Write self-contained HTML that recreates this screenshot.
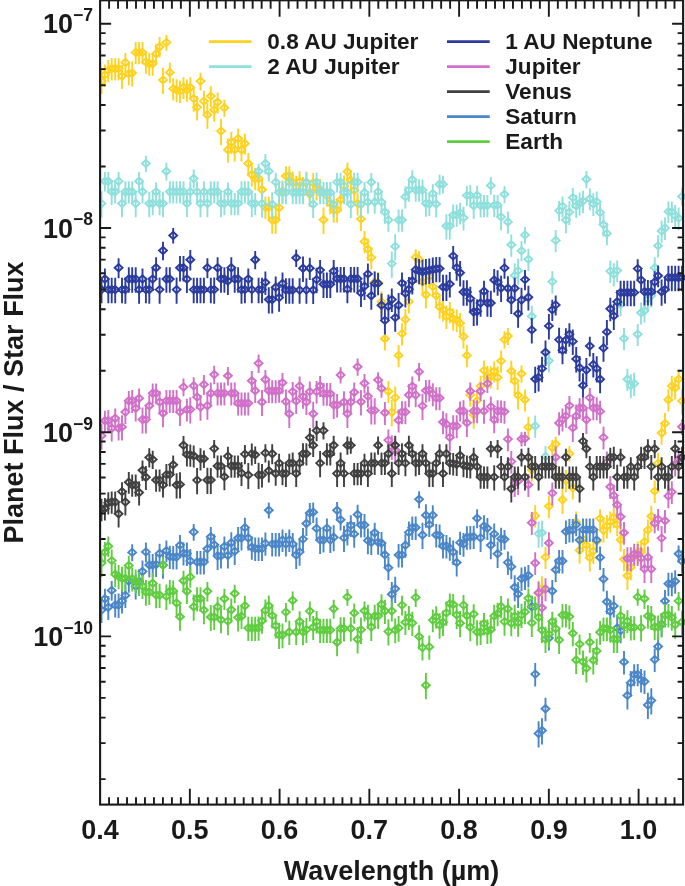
<!DOCTYPE html>
<html lang="en"><head><meta charset="utf-8"><title>Planet Flux / Star Flux vs Wavelength</title>
<style>html,body{margin:0;padding:0;background:#fff}svg{display:block}</style></head>
<body>
<svg width="685" height="886" viewBox="0 0 685 886">
<rect width="685" height="886" fill="#fff"/>
<defs><clipPath id="plotclip"><rect x="100.1" y="0.3" width="586.0" height="804.3000000000001"/></clipPath></defs>
<g clip-path="url(#plotclip)"><g stroke="#ffd21f" fill="none"><path stroke-width="1.9" d="M101.5 70.0V93.9M104.9 64.4V86.7M108.3 60.0V82.2M111.7 58.2V80.5M115.2 58.2V80.5M118.6 58.2V80.5M122.0 64.8V89.1M125.4 53.1V72.8M128.8 63.1V85.5M132.2 61.4V86.6M135.7 42.0V64.3M139.1 42.0V64.3M142.5 42.0V64.3M145.9 51.5V73.7M149.3 53.0V75.7M152.7 53.0V75.7M156.1 44.3V64.2M159.6 37.0V57.6M163.0 67.7V94.0M166.4 34.9V50.7M169.8 62.8V83.2M173.2 78.2V100.5M176.6 79.3V101.9M180.0 80.5V103.1M183.5 77.2V98.9M186.9 79.4V101.7M190.3 77.2V98.9M193.7 87.1V111.8M197.1 95.9V120.5M200.5 72.7V90.4M203.9 90.7V112.9M207.4 102.8V128.8M210.8 86.3V107.1M214.2 99.4V121.7M217.6 92.5V113.4M221.0 118.9V145.2M224.4 99.7V116.8M227.9 138.5V162.7M231.3 131.8V154.1M234.7 139.3V161.6M238.1 128.6V149.7M241.5 139.3V161.6M244.9 133.8V154.5M248.3 153.1V175.3M251.8 164.3V186.6M255.2 168.0V190.3M258.6 168.0V190.3M262.0 179.3V201.6M265.4 196.7V219.0M268.8 196.7V219.0M272.2 208.1V233.7M275.7 208.1V233.7M279.1 197.2V219.5M282.5 180.6V202.9M285.9 166.2V187.0M289.3 166.2V187.0M292.7 171.5V193.9M296.2 176.1V199.7M299.6 171.3V193.4M303.0 177.1V199.6M306.4 171.8V193.9M309.8 183.1V207.1M313.2 172.9V193.7M316.6 178.4V200.5M320.1 179.1V201.4M323.5 207.6V233.9M326.9 186.1V206.6M330.3 193.5V214.2M333.7 198.8V222.8M337.1 198.8V222.8M340.6 189.4V211.6M344.0 175.5V197.8M347.4 162.6V181.6M350.8 170.4V191.2M354.2 179.7V202.0M357.6 193.2V215.5M361.0 208.4V230.7M364.5 231.0V253.2M367.9 238.6V260.9M371.3 247.1V269.4M374.7 271.6V293.8M378.1 272.1V294.4M381.5 291.3V313.6M384.9 328.3V350.6M388.4 380.9V403.2M391.8 400.1V426.3M395.2 386.4V410.3M398.6 345.0V367.3M402.0 323.2V345.5M405.4 308.9V331.2M408.9 291.2V313.4M412.3 270.7V293.0M415.7 249.2V266.1M419.1 251.1V268.5M422.5 270.9V294.7M425.9 282.7V308.5M429.3 266.9V286.7M432.8 277.0V297.3M436.2 285.1V307.4M439.6 296.5V318.8M443.0 299.2V321.5M446.4 305.6V329.0M449.8 302.0V323.2M453.2 308.4V330.7M456.7 309.6V331.9M460.1 312.9V335.1M463.5 326.1V348.4M466.9 344.9V367.2M470.3 384.4V406.7M473.7 402.6V428.8M477.1 389.3V413.0M480.6 375.7V398.0M484.0 360.6V381.3M487.4 366.0V388.2M490.8 366.3V388.6M494.2 361.4V382.5M497.6 366.2V390.1M501.1 350.4V372.7M504.5 331.3V348.8M507.9 328.1V344.9M511.3 360.6V382.9M514.7 369.8V394.0M518.1 383.2V409.4M521.5 365.4V382.8M525.0 389.4V411.6M528.4 416.7V439.0M531.8 459.4V481.7M535.2 505.2V527.5M538.6 580.8V607.1M542.0 576.3V602.6M545.5 546.7V569.0M548.9 495.8V518.1M552.3 440.0V456.0M555.7 436.8V452.1M559.1 466.3V488.6M562.5 487.7V513.9M565.9 469.9V492.2M569.4 446.3V461.4M572.8 477.3V499.5M576.2 511.5V533.8M579.6 538.5V563.8M583.0 529.5V550.3M586.4 535.1V556.1M589.8 545.7V571.5M593.3 540.0V563.9M596.7 530.8V553.1M600.1 509.3V528.7M603.5 519.4V542.8M606.9 515.0V538.4M610.3 511.5V533.1M613.8 507.6V528.2M617.2 514.0V536.3M620.6 529.3V551.5M624.0 548.9V571.2M627.4 563.6V589.9M630.8 555.9V580.3M634.2 546.3V568.5M637.7 541.6V563.8M641.1 541.6V563.8M644.5 531.1V553.4M647.9 519.5V541.7M651.3 505.8V528.0M654.7 480.6V502.9M658.1 452.7V475.0M661.6 422.5V444.8M665.0 413.0V435.2M668.4 389.2V411.5M671.8 375.7V397.6M675.2 377.3V399.6M678.6 369.6V389.8M682.0 388.9V414.8"/><path stroke-width="1.95" d="M97.6 81.1l3.9 -3.6l3.9 3.6l-3.9 3.6zM101.0 74.9l3.9 -3.6l3.9 3.6l-3.9 3.6zM104.4 70.4l3.9 -3.6l3.9 3.6l-3.9 3.6zM107.8 68.6l3.9 -3.6l3.9 3.6l-3.9 3.6zM111.3 68.6l3.9 -3.6l3.9 3.6l-3.9 3.6zM114.7 68.6l3.9 -3.6l3.9 3.6l-3.9 3.6zM118.1 76.1l3.9 -3.6l3.9 3.6l-3.9 3.6zM121.5 62.4l3.9 -3.6l3.9 3.6l-3.9 3.6zM124.9 73.6l3.9 -3.6l3.9 3.6l-3.9 3.6zM128.3 73.1l3.9 -3.6l3.9 3.6l-3.9 3.6zM131.8 52.4l3.9 -3.6l3.9 3.6l-3.9 3.6zM135.2 52.4l3.9 -3.6l3.9 3.6l-3.9 3.6zM138.6 52.4l3.9 -3.6l3.9 3.6l-3.9 3.6zM142.0 61.9l3.9 -3.6l3.9 3.6l-3.9 3.6zM145.4 63.7l3.9 -3.6l3.9 3.6l-3.9 3.6zM148.8 63.7l3.9 -3.6l3.9 3.6l-3.9 3.6zM152.2 53.7l3.9 -3.6l3.9 3.6l-3.9 3.6zM155.7 46.7l3.9 -3.6l3.9 3.6l-3.9 3.6zM159.1 79.9l3.9 -3.6l3.9 3.6l-3.9 3.6zM162.5 42.4l3.9 -3.6l3.9 3.6l-3.9 3.6zM165.9 72.4l3.9 -3.6l3.9 3.6l-3.9 3.6zM169.3 88.6l3.9 -3.6l3.9 3.6l-3.9 3.6zM172.7 89.9l3.9 -3.6l3.9 3.6l-3.9 3.6zM176.1 91.1l3.9 -3.6l3.9 3.6l-3.9 3.6zM179.6 87.4l3.9 -3.6l3.9 3.6l-3.9 3.6zM183.0 89.9l3.9 -3.6l3.9 3.6l-3.9 3.6zM186.4 87.4l3.9 -3.6l3.9 3.6l-3.9 3.6zM189.8 98.6l3.9 -3.6l3.9 3.6l-3.9 3.6zM193.2 107.3l3.9 -3.6l3.9 3.6l-3.9 3.6zM196.6 81.1l3.9 -3.6l3.9 3.6l-3.9 3.6zM200.0 101.1l3.9 -3.6l3.9 3.6l-3.9 3.6zM203.5 114.8l3.9 -3.6l3.9 3.6l-3.9 3.6zM206.9 96.1l3.9 -3.6l3.9 3.6l-3.9 3.6zM210.3 109.8l3.9 -3.6l3.9 3.6l-3.9 3.6zM213.7 102.3l3.9 -3.6l3.9 3.6l-3.9 3.6zM217.1 131.1l3.9 -3.6l3.9 3.6l-3.9 3.6zM220.5 107.8l3.9 -3.6l3.9 3.6l-3.9 3.6zM224.0 149.8l3.9 -3.6l3.9 3.6l-3.9 3.6zM227.4 142.3l3.9 -3.6l3.9 3.6l-3.9 3.6zM230.8 149.8l3.9 -3.6l3.9 3.6l-3.9 3.6zM234.2 138.5l3.9 -3.6l3.9 3.6l-3.9 3.6zM237.6 149.8l3.9 -3.6l3.9 3.6l-3.9 3.6zM241.0 143.5l3.9 -3.6l3.9 3.6l-3.9 3.6zM244.4 163.5l3.9 -3.6l3.9 3.6l-3.9 3.6zM247.9 174.7l3.9 -3.6l3.9 3.6l-3.9 3.6zM251.3 178.5l3.9 -3.6l3.9 3.6l-3.9 3.6zM254.7 178.5l3.9 -3.6l3.9 3.6l-3.9 3.6zM258.1 189.7l3.9 -3.6l3.9 3.6l-3.9 3.6zM261.5 207.2l3.9 -3.6l3.9 3.6l-3.9 3.6zM264.9 207.2l3.9 -3.6l3.9 3.6l-3.9 3.6zM268.4 220.0l3.9 -3.6l3.9 3.6l-3.9 3.6zM271.8 220.0l3.9 -3.6l3.9 3.6l-3.9 3.6zM275.2 207.7l3.9 -3.6l3.9 3.6l-3.9 3.6zM278.6 191.0l3.9 -3.6l3.9 3.6l-3.9 3.6zM282.0 176.0l3.9 -3.6l3.9 3.6l-3.9 3.6zM285.4 176.0l3.9 -3.6l3.9 3.6l-3.9 3.6zM288.8 182.0l3.9 -3.6l3.9 3.6l-3.9 3.6zM292.3 187.1l3.9 -3.6l3.9 3.6l-3.9 3.6zM295.7 181.6l3.9 -3.6l3.9 3.6l-3.9 3.6zM299.1 187.6l3.9 -3.6l3.9 3.6l-3.9 3.6zM302.5 182.2l3.9 -3.6l3.9 3.6l-3.9 3.6zM305.9 194.3l3.9 -3.6l3.9 3.6l-3.9 3.6zM309.3 182.7l3.9 -3.6l3.9 3.6l-3.9 3.6zM312.7 188.7l3.9 -3.6l3.9 3.6l-3.9 3.6zM316.2 189.5l3.9 -3.6l3.9 3.6l-3.9 3.6zM319.6 219.8l3.9 -3.6l3.9 3.6l-3.9 3.6zM323.0 195.8l3.9 -3.6l3.9 3.6l-3.9 3.6zM326.4 203.3l3.9 -3.6l3.9 3.6l-3.9 3.6zM329.8 210.0l3.9 -3.6l3.9 3.6l-3.9 3.6zM333.2 210.0l3.9 -3.6l3.9 3.6l-3.9 3.6zM336.7 199.8l3.9 -3.6l3.9 3.6l-3.9 3.6zM340.1 185.9l3.9 -3.6l3.9 3.6l-3.9 3.6zM343.5 171.6l3.9 -3.6l3.9 3.6l-3.9 3.6zM346.9 180.2l3.9 -3.6l3.9 3.6l-3.9 3.6zM350.3 190.2l3.9 -3.6l3.9 3.6l-3.9 3.6zM353.7 203.6l3.9 -3.6l3.9 3.6l-3.9 3.6zM357.1 218.9l3.9 -3.6l3.9 3.6l-3.9 3.6zM360.6 241.4l3.9 -3.6l3.9 3.6l-3.9 3.6zM364.0 249.1l3.9 -3.6l3.9 3.6l-3.9 3.6zM367.4 257.6l3.9 -3.6l3.9 3.6l-3.9 3.6zM370.8 282.0l3.9 -3.6l3.9 3.6l-3.9 3.6zM374.2 282.6l3.9 -3.6l3.9 3.6l-3.9 3.6zM377.6 301.8l3.9 -3.6l3.9 3.6l-3.9 3.6zM381.0 338.7l3.9 -3.6l3.9 3.6l-3.9 3.6zM384.5 391.4l3.9 -3.6l3.9 3.6l-3.9 3.6zM387.9 412.2l3.9 -3.6l3.9 3.6l-3.9 3.6zM391.3 397.6l3.9 -3.6l3.9 3.6l-3.9 3.6zM394.7 355.4l3.9 -3.6l3.9 3.6l-3.9 3.6zM398.1 333.6l3.9 -3.6l3.9 3.6l-3.9 3.6zM401.5 319.4l3.9 -3.6l3.9 3.6l-3.9 3.6zM405.0 301.6l3.9 -3.6l3.9 3.6l-3.9 3.6zM408.4 281.1l3.9 -3.6l3.9 3.6l-3.9 3.6zM411.8 257.2l3.9 -3.6l3.9 3.6l-3.9 3.6zM415.2 259.4l3.9 -3.6l3.9 3.6l-3.9 3.6zM418.6 282.0l3.9 -3.6l3.9 3.6l-3.9 3.6zM422.0 294.7l3.9 -3.6l3.9 3.6l-3.9 3.6zM425.4 276.3l3.9 -3.6l3.9 3.6l-3.9 3.6zM428.9 286.6l3.9 -3.6l3.9 3.6l-3.9 3.6zM432.3 295.6l3.9 -3.6l3.9 3.6l-3.9 3.6zM435.7 306.9l3.9 -3.6l3.9 3.6l-3.9 3.6zM439.1 309.6l3.9 -3.6l3.9 3.6l-3.9 3.6zM442.5 316.5l3.9 -3.6l3.9 3.6l-3.9 3.6zM445.9 312.0l3.9 -3.6l3.9 3.6l-3.9 3.6zM449.3 318.9l3.9 -3.6l3.9 3.6l-3.9 3.6zM452.8 320.0l3.9 -3.6l3.9 3.6l-3.9 3.6zM456.2 323.3l3.9 -3.6l3.9 3.6l-3.9 3.6zM459.6 336.5l3.9 -3.6l3.9 3.6l-3.9 3.6zM463.0 355.4l3.9 -3.6l3.9 3.6l-3.9 3.6zM466.4 394.9l3.9 -3.6l3.9 3.6l-3.9 3.6zM469.8 414.7l3.9 -3.6l3.9 3.6l-3.9 3.6zM473.2 400.4l3.9 -3.6l3.9 3.6l-3.9 3.6zM476.7 386.1l3.9 -3.6l3.9 3.6l-3.9 3.6zM480.1 370.4l3.9 -3.6l3.9 3.6l-3.9 3.6zM483.5 376.4l3.9 -3.6l3.9 3.6l-3.9 3.6zM486.9 376.7l3.9 -3.6l3.9 3.6l-3.9 3.6zM490.3 371.3l3.9 -3.6l3.9 3.6l-3.9 3.6zM493.7 377.4l3.9 -3.6l3.9 3.6l-3.9 3.6zM497.2 360.9l3.9 -3.6l3.9 3.6l-3.9 3.6zM500.6 339.6l3.9 -3.6l3.9 3.6l-3.9 3.6zM504.0 336.1l3.9 -3.6l3.9 3.6l-3.9 3.6zM507.4 371.0l3.9 -3.6l3.9 3.6l-3.9 3.6zM510.8 381.1l3.9 -3.6l3.9 3.6l-3.9 3.6zM514.2 395.3l3.9 -3.6l3.9 3.6l-3.9 3.6zM517.6 373.7l3.9 -3.6l3.9 3.6l-3.9 3.6zM521.1 399.8l3.9 -3.6l3.9 3.6l-3.9 3.6zM524.5 427.2l3.9 -3.6l3.9 3.6l-3.9 3.6zM527.9 469.9l3.9 -3.6l3.9 3.6l-3.9 3.6zM531.3 515.7l3.9 -3.6l3.9 3.6l-3.9 3.6zM534.7 593.0l3.9 -3.6l3.9 3.6l-3.9 3.6zM538.1 588.5l3.9 -3.6l3.9 3.6l-3.9 3.6zM541.6 557.1l3.9 -3.6l3.9 3.6l-3.9 3.6zM545.0 506.2l3.9 -3.6l3.9 3.6l-3.9 3.6zM548.4 447.7l3.9 -3.6l3.9 3.6l-3.9 3.6zM551.8 444.1l3.9 -3.6l3.9 3.6l-3.9 3.6zM555.2 476.7l3.9 -3.6l3.9 3.6l-3.9 3.6zM558.6 499.8l3.9 -3.6l3.9 3.6l-3.9 3.6zM562.0 480.4l3.9 -3.6l3.9 3.6l-3.9 3.6zM565.5 453.6l3.9 -3.6l3.9 3.6l-3.9 3.6zM568.9 487.7l3.9 -3.6l3.9 3.6l-3.9 3.6zM572.3 522.0l3.9 -3.6l3.9 3.6l-3.9 3.6zM575.7 550.2l3.9 -3.6l3.9 3.6l-3.9 3.6zM579.1 539.3l3.9 -3.6l3.9 3.6l-3.9 3.6zM582.5 545.0l3.9 -3.6l3.9 3.6l-3.9 3.6zM585.9 557.7l3.9 -3.6l3.9 3.6l-3.9 3.6zM589.4 551.1l3.9 -3.6l3.9 3.6l-3.9 3.6zM592.8 541.2l3.9 -3.6l3.9 3.6l-3.9 3.6zM596.2 518.5l3.9 -3.6l3.9 3.6l-3.9 3.6zM599.6 530.3l3.9 -3.6l3.9 3.6l-3.9 3.6zM603.0 526.0l3.9 -3.6l3.9 3.6l-3.9 3.6zM606.4 521.6l3.9 -3.6l3.9 3.6l-3.9 3.6zM609.9 517.3l3.9 -3.6l3.9 3.6l-3.9 3.6zM613.3 524.5l3.9 -3.6l3.9 3.6l-3.9 3.6zM616.7 539.7l3.9 -3.6l3.9 3.6l-3.9 3.6zM620.1 559.3l3.9 -3.6l3.9 3.6l-3.9 3.6zM623.5 575.8l3.9 -3.6l3.9 3.6l-3.9 3.6zM626.9 567.2l3.9 -3.6l3.9 3.6l-3.9 3.6zM630.3 556.7l3.9 -3.6l3.9 3.6l-3.9 3.6zM633.8 552.0l3.9 -3.6l3.9 3.6l-3.9 3.6zM637.2 552.0l3.9 -3.6l3.9 3.6l-3.9 3.6zM640.6 541.6l3.9 -3.6l3.9 3.6l-3.9 3.6zM644.0 529.9l3.9 -3.6l3.9 3.6l-3.9 3.6zM647.4 516.2l3.9 -3.6l3.9 3.6l-3.9 3.6zM650.8 491.1l3.9 -3.6l3.9 3.6l-3.9 3.6zM654.2 463.1l3.9 -3.6l3.9 3.6l-3.9 3.6zM657.7 433.0l3.9 -3.6l3.9 3.6l-3.9 3.6zM661.1 423.4l3.9 -3.6l3.9 3.6l-3.9 3.6zM664.5 399.7l3.9 -3.6l3.9 3.6l-3.9 3.6zM667.9 386.0l3.9 -3.6l3.9 3.6l-3.9 3.6zM671.3 387.8l3.9 -3.6l3.9 3.6l-3.9 3.6zM674.7 379.1l3.9 -3.6l3.9 3.6l-3.9 3.6zM678.1 400.9l3.9 -3.6l3.9 3.6l-3.9 3.6z"/></g><g stroke="#8fe0dc" fill="none"><path stroke-width="1.9" d="M101.5 191.3V217.6M104.9 171.9V191.6M108.3 171.9V191.6M111.7 180.0V205.1M115.2 181.3V203.5M118.6 171.9V191.6M122.0 191.7V217.2M125.4 181.3V203.5M128.8 181.3V203.5M132.2 181.3V203.5M135.7 191.7V217.2M139.1 171.9V191.6M142.5 181.3V203.5M145.9 155.8V172.0M149.3 191.7V217.2M152.7 193.1V215.3M156.1 182.5V202.0M159.6 193.1V215.3M163.0 191.7V217.2M166.4 162.8V180.5M169.8 181.3V203.5M173.2 181.3V203.5M176.6 181.3V203.5M180.0 181.3V203.5M183.5 181.3V203.5M186.9 191.7V217.2M190.3 181.3V203.5M193.7 169.4V188.6M197.1 181.3V203.5M200.5 191.7V217.2M203.9 181.3V203.5M207.4 191.7V217.2M210.8 181.3V203.5M214.2 181.3V203.5M217.6 181.3V203.5M221.0 191.7V217.2M224.4 193.1V215.3M227.9 182.5V202.0M231.3 193.1V215.3M234.7 193.1V215.3M238.1 193.1V215.3M241.5 181.3V203.5M244.9 181.3V203.5M248.3 181.3V203.5M251.8 191.7V217.2M255.2 193.1V215.3M258.6 163.8V179.3M262.0 191.3V217.6M265.4 153.9V174.3M268.8 161.9V181.6M272.2 192.2V218.4M275.7 172.7V192.5M279.1 182.1V204.3M282.5 182.1V204.3M285.9 182.1V204.3M289.3 172.7V192.5M292.7 182.1V204.3M296.2 182.1V204.3M299.6 182.1V204.3M303.0 182.1V204.3M306.4 172.7V192.5M309.8 182.1V204.3M313.2 192.5V218.0M316.6 172.7V192.5M320.1 182.1V204.3M323.5 182.1V204.3M326.9 182.1V204.3M330.3 182.1V204.3M333.7 192.5V218.0M337.1 172.7V192.5M340.6 172.7V192.5M344.0 182.1V204.3M347.4 182.1V204.3M350.8 192.5V218.0M354.2 172.7V192.5M357.6 172.7V192.5M361.0 192.5V218.0M364.5 182.1V204.3M367.9 191.6V213.8M371.3 172.9V192.7M374.7 191.6V213.8M378.1 182.2V202.0M381.5 191.6V213.8M384.9 201.6V223.8M388.4 209.6V231.8M391.8 251.5V277.7M395.2 234.2V260.5M398.6 209.6V231.8M402.0 209.6V231.8M405.4 186.3V208.6M408.9 179.6V201.8M412.3 170.2V190.0M415.7 179.6V201.8M419.1 179.6V201.8M422.5 179.6V201.8M425.9 191.9V216.8M429.3 193.5V215.9M432.8 184.2V204.1M436.2 192.3V217.4M439.6 174.8V194.8M443.0 175.8V193.6M446.4 214.3V239.5M449.8 214.3V239.5M453.2 204.6V226.8M456.7 204.6V226.8M460.1 202.7V224.5M463.5 206.8V230.4M466.9 186.1V205.9M470.3 184.9V207.2M473.7 194.1V219.1M477.1 185.8V205.6M480.6 195.1V217.4M484.0 195.0V217.3M487.4 194.9V217.2M490.8 177.0V194.8M494.2 194.8V217.0M497.6 194.7V216.9M501.1 205.0V230.5M504.5 186.0V203.3M507.9 211.5V233.8M511.3 234.4V256.7M514.7 263.3V289.6M518.1 258.6V284.8M521.5 241.1V261.3M525.0 226.9V243.8M528.4 248.8V271.1M531.8 305.8V328.0M535.2 415.5V437.7M538.6 521.4V547.7M542.0 520.7V546.9M545.5 445.9V468.2M548.9 350.4V372.6M552.3 271.2V293.5M555.7 230.0V252.3M559.1 201.1V221.2M562.5 196.4V217.2M565.9 208.5V233.3M569.4 201.0V224.9M572.8 188.0V208.4M576.2 195.0V217.9M579.6 192.6V215.4M583.0 190.7V213.0M586.4 171.0V188.3M589.8 188.5V210.2M593.3 193.2V216.0M596.7 191.4V213.1M600.1 202.2V224.4M603.5 214.3V236.6M606.9 222.9V245.2M610.3 260.6V283.0M613.8 263.3V286.4M617.2 260.5V281.9M620.6 294.1V316.3M624.0 328.0V350.3M627.4 368.7V391.0M630.8 374.3V398.3M634.2 372.7V396.1M637.7 323.9V346.1M641.1 302.4V324.6M644.5 300.3V322.6M647.9 288.7V310.9M651.3 285.2V307.5M654.7 257.3V279.5M658.1 235.3V257.6M661.6 220.6V242.8M665.0 217.6V239.9M668.4 201.6V222.9M671.8 201.6V222.9M675.2 204.9V228.3M678.6 207.4V230.3M682.0 188.0V205.8"/><path stroke-width="1.95" d="M97.6 203.5l3.9 -3.6l3.9 3.6l-3.9 3.6zM101.0 181.2l3.9 -3.6l3.9 3.6l-3.9 3.6zM104.4 181.2l3.9 -3.6l3.9 3.6l-3.9 3.6zM107.8 191.7l3.9 -3.6l3.9 3.6l-3.9 3.6zM111.3 191.7l3.9 -3.6l3.9 3.6l-3.9 3.6zM114.7 181.2l3.9 -3.6l3.9 3.6l-3.9 3.6zM118.1 203.5l3.9 -3.6l3.9 3.6l-3.9 3.6zM121.5 191.7l3.9 -3.6l3.9 3.6l-3.9 3.6zM124.9 191.7l3.9 -3.6l3.9 3.6l-3.9 3.6zM128.3 191.7l3.9 -3.6l3.9 3.6l-3.9 3.6zM131.8 203.5l3.9 -3.6l3.9 3.6l-3.9 3.6zM135.2 181.2l3.9 -3.6l3.9 3.6l-3.9 3.6zM138.6 191.7l3.9 -3.6l3.9 3.6l-3.9 3.6zM142.0 163.5l3.9 -3.6l3.9 3.6l-3.9 3.6zM145.4 203.5l3.9 -3.6l3.9 3.6l-3.9 3.6zM148.8 203.5l3.9 -3.6l3.9 3.6l-3.9 3.6zM152.2 191.7l3.9 -3.6l3.9 3.6l-3.9 3.6zM155.7 203.5l3.9 -3.6l3.9 3.6l-3.9 3.6zM159.1 203.5l3.9 -3.6l3.9 3.6l-3.9 3.6zM162.5 171.2l3.9 -3.6l3.9 3.6l-3.9 3.6zM165.9 191.7l3.9 -3.6l3.9 3.6l-3.9 3.6zM169.3 191.7l3.9 -3.6l3.9 3.6l-3.9 3.6zM172.7 191.7l3.9 -3.6l3.9 3.6l-3.9 3.6zM176.1 191.7l3.9 -3.6l3.9 3.6l-3.9 3.6zM179.6 191.7l3.9 -3.6l3.9 3.6l-3.9 3.6zM183.0 203.5l3.9 -3.6l3.9 3.6l-3.9 3.6zM186.4 191.7l3.9 -3.6l3.9 3.6l-3.9 3.6zM189.8 178.5l3.9 -3.6l3.9 3.6l-3.9 3.6zM193.2 191.7l3.9 -3.6l3.9 3.6l-3.9 3.6zM196.6 203.5l3.9 -3.6l3.9 3.6l-3.9 3.6zM200.0 191.7l3.9 -3.6l3.9 3.6l-3.9 3.6zM203.5 203.5l3.9 -3.6l3.9 3.6l-3.9 3.6zM206.9 191.7l3.9 -3.6l3.9 3.6l-3.9 3.6zM210.3 191.7l3.9 -3.6l3.9 3.6l-3.9 3.6zM213.7 191.7l3.9 -3.6l3.9 3.6l-3.9 3.6zM217.1 203.5l3.9 -3.6l3.9 3.6l-3.9 3.6zM220.5 203.5l3.9 -3.6l3.9 3.6l-3.9 3.6zM224.0 191.7l3.9 -3.6l3.9 3.6l-3.9 3.6zM227.4 203.5l3.9 -3.6l3.9 3.6l-3.9 3.6zM230.8 203.5l3.9 -3.6l3.9 3.6l-3.9 3.6zM234.2 203.5l3.9 -3.6l3.9 3.6l-3.9 3.6zM237.6 191.7l3.9 -3.6l3.9 3.6l-3.9 3.6zM241.0 191.7l3.9 -3.6l3.9 3.6l-3.9 3.6zM244.4 191.7l3.9 -3.6l3.9 3.6l-3.9 3.6zM247.9 203.5l3.9 -3.6l3.9 3.6l-3.9 3.6zM251.3 203.5l3.9 -3.6l3.9 3.6l-3.9 3.6zM254.7 171.2l3.9 -3.6l3.9 3.6l-3.9 3.6zM258.1 203.5l3.9 -3.6l3.9 3.6l-3.9 3.6zM261.5 163.5l3.9 -3.6l3.9 3.6l-3.9 3.6zM264.9 171.2l3.9 -3.6l3.9 3.6l-3.9 3.6zM268.4 204.3l3.9 -3.6l3.9 3.6l-3.9 3.6zM271.8 182.1l3.9 -3.6l3.9 3.6l-3.9 3.6zM275.2 192.5l3.9 -3.6l3.9 3.6l-3.9 3.6zM278.6 192.5l3.9 -3.6l3.9 3.6l-3.9 3.6zM282.0 192.5l3.9 -3.6l3.9 3.6l-3.9 3.6zM285.4 182.1l3.9 -3.6l3.9 3.6l-3.9 3.6zM288.8 192.5l3.9 -3.6l3.9 3.6l-3.9 3.6zM292.3 192.5l3.9 -3.6l3.9 3.6l-3.9 3.6zM295.7 192.5l3.9 -3.6l3.9 3.6l-3.9 3.6zM299.1 192.5l3.9 -3.6l3.9 3.6l-3.9 3.6zM302.5 182.1l3.9 -3.6l3.9 3.6l-3.9 3.6zM305.9 192.5l3.9 -3.6l3.9 3.6l-3.9 3.6zM309.3 204.3l3.9 -3.6l3.9 3.6l-3.9 3.6zM312.7 182.1l3.9 -3.6l3.9 3.6l-3.9 3.6zM316.2 192.5l3.9 -3.6l3.9 3.6l-3.9 3.6zM319.6 192.5l3.9 -3.6l3.9 3.6l-3.9 3.6zM323.0 192.5l3.9 -3.6l3.9 3.6l-3.9 3.6zM326.4 192.5l3.9 -3.6l3.9 3.6l-3.9 3.6zM329.8 204.3l3.9 -3.6l3.9 3.6l-3.9 3.6zM333.2 182.1l3.9 -3.6l3.9 3.6l-3.9 3.6zM336.7 182.1l3.9 -3.6l3.9 3.6l-3.9 3.6zM340.1 192.5l3.9 -3.6l3.9 3.6l-3.9 3.6zM343.5 192.5l3.9 -3.6l3.9 3.6l-3.9 3.6zM346.9 204.3l3.9 -3.6l3.9 3.6l-3.9 3.6zM350.3 182.1l3.9 -3.6l3.9 3.6l-3.9 3.6zM353.7 182.1l3.9 -3.6l3.9 3.6l-3.9 3.6zM357.1 204.3l3.9 -3.6l3.9 3.6l-3.9 3.6zM360.6 192.5l3.9 -3.6l3.9 3.6l-3.9 3.6zM364.0 202.0l3.9 -3.6l3.9 3.6l-3.9 3.6zM367.4 182.2l3.9 -3.6l3.9 3.6l-3.9 3.6zM370.8 202.0l3.9 -3.6l3.9 3.6l-3.9 3.6zM374.2 191.6l3.9 -3.6l3.9 3.6l-3.9 3.6zM377.6 202.0l3.9 -3.6l3.9 3.6l-3.9 3.6zM381.0 212.0l3.9 -3.6l3.9 3.6l-3.9 3.6zM384.5 220.0l3.9 -3.6l3.9 3.6l-3.9 3.6zM387.9 263.6l3.9 -3.6l3.9 3.6l-3.9 3.6zM391.3 246.4l3.9 -3.6l3.9 3.6l-3.9 3.6zM394.7 220.0l3.9 -3.6l3.9 3.6l-3.9 3.6zM398.1 220.0l3.9 -3.6l3.9 3.6l-3.9 3.6zM401.5 196.8l3.9 -3.6l3.9 3.6l-3.9 3.6zM405.0 190.0l3.9 -3.6l3.9 3.6l-3.9 3.6zM408.4 179.6l3.9 -3.6l3.9 3.6l-3.9 3.6zM411.8 190.0l3.9 -3.6l3.9 3.6l-3.9 3.6zM415.2 190.0l3.9 -3.6l3.9 3.6l-3.9 3.6zM418.6 190.0l3.9 -3.6l3.9 3.6l-3.9 3.6zM422.0 203.5l3.9 -3.6l3.9 3.6l-3.9 3.6zM425.4 204.0l3.9 -3.6l3.9 3.6l-3.9 3.6zM428.9 193.6l3.9 -3.6l3.9 3.6l-3.9 3.6zM432.3 204.0l3.9 -3.6l3.9 3.6l-3.9 3.6zM435.7 184.2l3.9 -3.6l3.9 3.6l-3.9 3.6zM439.1 184.2l3.9 -3.6l3.9 3.6l-3.9 3.6zM442.5 226.0l3.9 -3.6l3.9 3.6l-3.9 3.6zM445.9 226.0l3.9 -3.6l3.9 3.6l-3.9 3.6zM449.3 215.0l3.9 -3.6l3.9 3.6l-3.9 3.6zM452.8 215.0l3.9 -3.6l3.9 3.6l-3.9 3.6zM456.2 212.9l3.9 -3.6l3.9 3.6l-3.9 3.6zM459.6 217.8l3.9 -3.6l3.9 3.6l-3.9 3.6zM463.0 195.4l3.9 -3.6l3.9 3.6l-3.9 3.6zM466.4 195.4l3.9 -3.6l3.9 3.6l-3.9 3.6zM469.8 205.7l3.9 -3.6l3.9 3.6l-3.9 3.6zM473.2 195.2l3.9 -3.6l3.9 3.6l-3.9 3.6zM476.7 205.5l3.9 -3.6l3.9 3.6l-3.9 3.6zM480.1 205.5l3.9 -3.6l3.9 3.6l-3.9 3.6zM483.5 205.4l3.9 -3.6l3.9 3.6l-3.9 3.6zM486.9 185.5l3.9 -3.6l3.9 3.6l-3.9 3.6zM490.3 205.2l3.9 -3.6l3.9 3.6l-3.9 3.6zM493.7 205.1l3.9 -3.6l3.9 3.6l-3.9 3.6zM497.2 216.9l3.9 -3.6l3.9 3.6l-3.9 3.6zM500.6 194.2l3.9 -3.6l3.9 3.6l-3.9 3.6zM504.0 221.9l3.9 -3.6l3.9 3.6l-3.9 3.6zM507.4 244.8l3.9 -3.6l3.9 3.6l-3.9 3.6zM510.8 275.5l3.9 -3.6l3.9 3.6l-3.9 3.6zM514.2 270.7l3.9 -3.6l3.9 3.6l-3.9 3.6zM517.6 250.7l3.9 -3.6l3.9 3.6l-3.9 3.6zM521.1 234.9l3.9 -3.6l3.9 3.6l-3.9 3.6zM524.5 259.2l3.9 -3.6l3.9 3.6l-3.9 3.6zM527.9 316.2l3.9 -3.6l3.9 3.6l-3.9 3.6zM531.3 425.9l3.9 -3.6l3.9 3.6l-3.9 3.6zM534.7 533.6l3.9 -3.6l3.9 3.6l-3.9 3.6zM538.1 532.8l3.9 -3.6l3.9 3.6l-3.9 3.6zM541.6 456.4l3.9 -3.6l3.9 3.6l-3.9 3.6zM545.0 360.8l3.9 -3.6l3.9 3.6l-3.9 3.6zM548.4 281.6l3.9 -3.6l3.9 3.6l-3.9 3.6zM551.8 240.4l3.9 -3.6l3.9 3.6l-3.9 3.6zM555.2 210.6l3.9 -3.6l3.9 3.6l-3.9 3.6zM558.6 206.2l3.9 -3.6l3.9 3.6l-3.9 3.6zM562.0 220.0l3.9 -3.6l3.9 3.6l-3.9 3.6zM565.5 212.1l3.9 -3.6l3.9 3.6l-3.9 3.6zM568.9 197.6l3.9 -3.6l3.9 3.6l-3.9 3.6zM572.3 205.7l3.9 -3.6l3.9 3.6l-3.9 3.6zM575.7 203.3l3.9 -3.6l3.9 3.6l-3.9 3.6zM579.1 201.1l3.9 -3.6l3.9 3.6l-3.9 3.6zM582.5 179.2l3.9 -3.6l3.9 3.6l-3.9 3.6zM585.9 198.7l3.9 -3.6l3.9 3.6l-3.9 3.6zM589.4 203.9l3.9 -3.6l3.9 3.6l-3.9 3.6zM592.8 201.6l3.9 -3.6l3.9 3.6l-3.9 3.6zM596.2 212.6l3.9 -3.6l3.9 3.6l-3.9 3.6zM599.6 224.8l3.9 -3.6l3.9 3.6l-3.9 3.6zM603.0 233.4l3.9 -3.6l3.9 3.6l-3.9 3.6zM606.4 271.1l3.9 -3.6l3.9 3.6l-3.9 3.6zM609.9 274.1l3.9 -3.6l3.9 3.6l-3.9 3.6zM613.3 270.6l3.9 -3.6l3.9 3.6l-3.9 3.6zM616.7 304.5l3.9 -3.6l3.9 3.6l-3.9 3.6zM620.1 338.5l3.9 -3.6l3.9 3.6l-3.9 3.6zM623.5 379.2l3.9 -3.6l3.9 3.6l-3.9 3.6zM626.9 385.5l3.9 -3.6l3.9 3.6l-3.9 3.6zM630.3 383.6l3.9 -3.6l3.9 3.6l-3.9 3.6zM633.8 334.3l3.9 -3.6l3.9 3.6l-3.9 3.6zM637.2 312.8l3.9 -3.6l3.9 3.6l-3.9 3.6zM640.6 310.7l3.9 -3.6l3.9 3.6l-3.9 3.6zM644.0 299.1l3.9 -3.6l3.9 3.6l-3.9 3.6zM647.4 295.7l3.9 -3.6l3.9 3.6l-3.9 3.6zM650.8 267.7l3.9 -3.6l3.9 3.6l-3.9 3.6zM654.2 245.7l3.9 -3.6l3.9 3.6l-3.9 3.6zM657.7 231.0l3.9 -3.6l3.9 3.6l-3.9 3.6zM661.1 228.0l3.9 -3.6l3.9 3.6l-3.9 3.6zM664.5 211.6l3.9 -3.6l3.9 3.6l-3.9 3.6zM667.9 211.6l3.9 -3.6l3.9 3.6l-3.9 3.6zM671.3 215.8l3.9 -3.6l3.9 3.6l-3.9 3.6zM674.7 218.1l3.9 -3.6l3.9 3.6l-3.9 3.6zM678.1 196.5l3.9 -3.6l3.9 3.6l-3.9 3.6z"/></g><g stroke="#2b3c9e" fill="none"><path stroke-width="1.9" d="M101.5 277.8V303.3M104.9 268.4V291.0M108.3 277.8V303.3M111.7 277.8V303.3M115.2 277.8V303.3M118.6 258.3V278.2M122.0 277.8V303.3M125.4 277.4V303.7M128.8 267.2V292.7M132.2 267.2V292.7M135.7 267.2V292.7M139.1 277.4V303.7M142.5 268.4V291.0M145.9 277.8V303.3M149.3 277.4V303.7M152.7 268.4V291.0M156.1 257.2V279.6M159.6 277.4V303.7M163.0 241.8V260.2M166.4 267.2V292.7M169.8 267.2V292.7M173.2 228.1V243.6M176.6 277.4V303.7M180.0 255.9V281.4M183.5 255.9V281.4M186.9 266.8V293.1M190.3 250.1V270.5M193.7 277.8V303.3M197.1 277.8V303.3M200.5 277.8V303.3M203.9 277.8V303.3M207.4 258.3V278.2M210.8 277.8V303.3M214.2 277.4V303.7M217.6 257.2V279.6M221.0 267.2V292.7M224.4 267.2V292.7M227.9 268.9V295.0M231.3 257.2V279.6M234.7 267.2V292.7M238.1 267.2V292.7M241.5 277.4V303.7M244.9 277.8V303.3M248.3 268.4V291.0M251.8 277.8V303.3M255.2 251.1V269.2M258.6 277.8V303.3M262.0 277.8V303.3M265.4 271.4V294.9M268.8 287.3V313.6M272.2 287.4V313.5M275.7 276.6V299.2M279.1 285.4V311.7M282.5 272.4V296.0M285.9 278.2V303.7M289.3 278.2V303.7M292.7 278.2V303.7M296.2 249.4V267.1M299.6 278.2V303.7M303.0 256.4V281.9M306.4 278.2V303.7M309.8 257.7V280.1M313.2 277.8V304.1M316.6 267.8V293.3M320.1 259.9V281.6M323.5 272.5V298.0M326.9 272.5V298.0M330.3 272.5V298.0M333.7 260.1V283.4M337.1 266.9V292.4M340.6 266.9V292.4M344.0 266.9V292.4M347.4 276.9V303.2M350.8 266.9V292.4M354.2 266.9V292.4M357.6 266.9V292.4M361.0 280.7V307.0M364.5 274.4V299.9M367.9 263.5V285.7M371.3 283.5V309.8M374.7 271.6V297.1M378.1 273.0V295.2M381.5 293.4V318.9M384.9 308.2V334.5M388.4 294.4V319.9M391.8 288.5V312.1M395.2 305.4V331.7M398.6 293.0V319.3M402.0 272.4V295.1M405.4 281.1V307.4M408.9 277.1V303.4M412.3 269.0V294.5M415.7 258.0V282.9M419.1 258.9V284.3M422.5 259.7V285.5M425.9 259.1V284.6M429.3 258.4V283.9M432.8 257.6V283.1M436.2 257.0V282.3M439.6 256.9V282.2M443.0 274.8V301.1M446.4 274.8V301.1M449.8 272.1V297.6M453.2 246.0V267.0M456.7 256.6V280.7M460.1 260.9V286.4M463.5 280.2V305.7M466.9 280.2V305.7M470.3 286.7V312.2M473.7 299.8V326.1M477.1 299.3V325.6M480.6 291.2V316.7M484.0 280.7V303.0M487.4 291.2V316.7M490.8 290.8V317.1M494.2 269.1V292.4M497.6 270.3V295.8M501.1 275.8V302.1M504.5 258.4V278.7M507.9 276.3V301.8M511.3 287.8V314.1M514.7 277.7V300.0M518.1 301.5V327.8M521.5 287.8V314.1M525.0 270.1V290.3M528.4 285.7V310.4M531.8 318.1V343.6M535.2 366.8V393.1M538.6 365.3V391.5M542.0 356.7V382.2M545.5 340.5V366.0M548.9 314.1V339.6M552.3 299.8V321.1M555.7 295.5V315.5M559.1 327.8V353.3M562.5 338.1V364.3M565.9 328.2V353.7M569.4 323.2V346.7M572.8 329.5V355.0M576.2 347.1V372.6M579.6 355.9V381.4M583.0 373.3V399.5M586.4 357.9V384.0M589.8 336.7V356.4M593.3 353.1V377.4M596.7 356.2V382.5M600.1 367.0V393.3M603.5 336.2V361.7M606.9 320.0V345.5M610.3 297.8V321.3M613.8 303.7V330.0M617.2 290.0V315.5M620.6 280.7V306.2M624.0 280.7V306.2M627.4 280.7V306.2M630.8 280.7V306.2M634.2 280.7V306.2M637.7 259.3V278.9M641.1 269.5V291.9M644.5 279.9V305.4M647.9 279.9V305.4M651.3 279.9V305.4M654.7 271.3V294.2M658.1 265.5V287.2M661.6 279.5V305.8M665.0 277.4V303.6M668.4 265.7V291.2M671.8 265.7V291.2M675.2 265.7V291.2M678.6 265.7V291.2M682.0 265.7V291.2"/><path stroke-width="1.95" d="M97.6 289.6l3.9 -3.6l3.9 3.6l-3.9 3.6zM101.0 279.0l3.9 -3.6l3.9 3.6l-3.9 3.6zM104.4 289.6l3.9 -3.6l3.9 3.6l-3.9 3.6zM107.8 289.6l3.9 -3.6l3.9 3.6l-3.9 3.6zM111.3 289.6l3.9 -3.6l3.9 3.6l-3.9 3.6zM114.7 267.7l3.9 -3.6l3.9 3.6l-3.9 3.6zM118.1 289.6l3.9 -3.6l3.9 3.6l-3.9 3.6zM121.5 289.6l3.9 -3.6l3.9 3.6l-3.9 3.6zM124.9 279.0l3.9 -3.6l3.9 3.6l-3.9 3.6zM128.3 279.0l3.9 -3.6l3.9 3.6l-3.9 3.6zM131.8 279.0l3.9 -3.6l3.9 3.6l-3.9 3.6zM135.2 289.6l3.9 -3.6l3.9 3.6l-3.9 3.6zM138.6 279.0l3.9 -3.6l3.9 3.6l-3.9 3.6zM142.0 289.6l3.9 -3.6l3.9 3.6l-3.9 3.6zM145.4 289.6l3.9 -3.6l3.9 3.6l-3.9 3.6zM148.8 279.0l3.9 -3.6l3.9 3.6l-3.9 3.6zM152.2 267.7l3.9 -3.6l3.9 3.6l-3.9 3.6zM155.7 289.6l3.9 -3.6l3.9 3.6l-3.9 3.6zM159.1 250.5l3.9 -3.6l3.9 3.6l-3.9 3.6zM162.5 279.0l3.9 -3.6l3.9 3.6l-3.9 3.6zM165.9 279.0l3.9 -3.6l3.9 3.6l-3.9 3.6zM169.3 235.5l3.9 -3.6l3.9 3.6l-3.9 3.6zM172.7 289.6l3.9 -3.6l3.9 3.6l-3.9 3.6zM176.1 267.7l3.9 -3.6l3.9 3.6l-3.9 3.6zM179.6 267.7l3.9 -3.6l3.9 3.6l-3.9 3.6zM183.0 279.0l3.9 -3.6l3.9 3.6l-3.9 3.6zM186.4 259.7l3.9 -3.6l3.9 3.6l-3.9 3.6zM189.8 289.6l3.9 -3.6l3.9 3.6l-3.9 3.6zM193.2 289.6l3.9 -3.6l3.9 3.6l-3.9 3.6zM196.6 289.6l3.9 -3.6l3.9 3.6l-3.9 3.6zM200.0 289.6l3.9 -3.6l3.9 3.6l-3.9 3.6zM203.5 267.7l3.9 -3.6l3.9 3.6l-3.9 3.6zM206.9 289.6l3.9 -3.6l3.9 3.6l-3.9 3.6zM210.3 289.6l3.9 -3.6l3.9 3.6l-3.9 3.6zM213.7 267.7l3.9 -3.6l3.9 3.6l-3.9 3.6zM217.1 279.0l3.9 -3.6l3.9 3.6l-3.9 3.6zM220.5 279.0l3.9 -3.6l3.9 3.6l-3.9 3.6zM224.0 281.0l3.9 -3.6l3.9 3.6l-3.9 3.6zM227.4 267.7l3.9 -3.6l3.9 3.6l-3.9 3.6zM230.8 279.0l3.9 -3.6l3.9 3.6l-3.9 3.6zM234.2 279.0l3.9 -3.6l3.9 3.6l-3.9 3.6zM237.6 289.6l3.9 -3.6l3.9 3.6l-3.9 3.6zM241.0 289.6l3.9 -3.6l3.9 3.6l-3.9 3.6zM244.4 279.0l3.9 -3.6l3.9 3.6l-3.9 3.6zM247.9 289.6l3.9 -3.6l3.9 3.6l-3.9 3.6zM251.3 259.7l3.9 -3.6l3.9 3.6l-3.9 3.6zM254.7 289.6l3.9 -3.6l3.9 3.6l-3.9 3.6zM258.1 289.6l3.9 -3.6l3.9 3.6l-3.9 3.6zM261.5 282.4l3.9 -3.6l3.9 3.6l-3.9 3.6zM264.9 299.5l3.9 -3.6l3.9 3.6l-3.9 3.6zM268.4 299.5l3.9 -3.6l3.9 3.6l-3.9 3.6zM271.8 287.2l3.9 -3.6l3.9 3.6l-3.9 3.6zM275.2 297.6l3.9 -3.6l3.9 3.6l-3.9 3.6zM278.6 283.4l3.9 -3.6l3.9 3.6l-3.9 3.6zM282.0 290.0l3.9 -3.6l3.9 3.6l-3.9 3.6zM285.4 290.0l3.9 -3.6l3.9 3.6l-3.9 3.6zM288.8 290.0l3.9 -3.6l3.9 3.6l-3.9 3.6zM292.3 257.8l3.9 -3.6l3.9 3.6l-3.9 3.6zM295.7 290.0l3.9 -3.6l3.9 3.6l-3.9 3.6zM299.1 268.2l3.9 -3.6l3.9 3.6l-3.9 3.6zM302.5 290.0l3.9 -3.6l3.9 3.6l-3.9 3.6zM305.9 268.2l3.9 -3.6l3.9 3.6l-3.9 3.6zM309.3 290.0l3.9 -3.6l3.9 3.6l-3.9 3.6zM312.7 279.6l3.9 -3.6l3.9 3.6l-3.9 3.6zM316.2 270.1l3.9 -3.6l3.9 3.6l-3.9 3.6zM319.6 284.3l3.9 -3.6l3.9 3.6l-3.9 3.6zM323.0 284.3l3.9 -3.6l3.9 3.6l-3.9 3.6zM326.4 284.3l3.9 -3.6l3.9 3.6l-3.9 3.6zM329.8 271.0l3.9 -3.6l3.9 3.6l-3.9 3.6zM333.2 278.7l3.9 -3.6l3.9 3.6l-3.9 3.6zM336.7 278.7l3.9 -3.6l3.9 3.6l-3.9 3.6zM340.1 278.7l3.9 -3.6l3.9 3.6l-3.9 3.6zM343.5 289.1l3.9 -3.6l3.9 3.6l-3.9 3.6zM346.9 278.7l3.9 -3.6l3.9 3.6l-3.9 3.6zM350.3 278.7l3.9 -3.6l3.9 3.6l-3.9 3.6zM353.7 278.7l3.9 -3.6l3.9 3.6l-3.9 3.6zM357.1 292.9l3.9 -3.6l3.9 3.6l-3.9 3.6zM360.6 286.2l3.9 -3.6l3.9 3.6l-3.9 3.6zM364.0 273.9l3.9 -3.6l3.9 3.6l-3.9 3.6zM367.4 295.7l3.9 -3.6l3.9 3.6l-3.9 3.6zM370.8 283.4l3.9 -3.6l3.9 3.6l-3.9 3.6zM374.2 283.4l3.9 -3.6l3.9 3.6l-3.9 3.6zM377.6 305.2l3.9 -3.6l3.9 3.6l-3.9 3.6zM381.0 320.4l3.9 -3.6l3.9 3.6l-3.9 3.6zM384.5 306.2l3.9 -3.6l3.9 3.6l-3.9 3.6zM387.9 299.5l3.9 -3.6l3.9 3.6l-3.9 3.6zM391.3 317.6l3.9 -3.6l3.9 3.6l-3.9 3.6zM394.7 305.2l3.9 -3.6l3.9 3.6l-3.9 3.6zM398.1 283.1l3.9 -3.6l3.9 3.6l-3.9 3.6zM401.5 293.3l3.9 -3.6l3.9 3.6l-3.9 3.6zM405.0 289.3l3.9 -3.6l3.9 3.6l-3.9 3.6zM408.4 280.8l3.9 -3.6l3.9 3.6l-3.9 3.6zM411.8 269.6l3.9 -3.6l3.9 3.6l-3.9 3.6zM415.2 270.7l3.9 -3.6l3.9 3.6l-3.9 3.6zM418.6 271.7l3.9 -3.6l3.9 3.6l-3.9 3.6zM422.0 270.9l3.9 -3.6l3.9 3.6l-3.9 3.6zM425.4 270.2l3.9 -3.6l3.9 3.6l-3.9 3.6zM428.9 269.5l3.9 -3.6l3.9 3.6l-3.9 3.6zM432.3 268.7l3.9 -3.6l3.9 3.6l-3.9 3.6zM435.7 268.6l3.9 -3.6l3.9 3.6l-3.9 3.6zM439.1 287.0l3.9 -3.6l3.9 3.6l-3.9 3.6zM442.5 287.0l3.9 -3.6l3.9 3.6l-3.9 3.6zM445.9 284.0l3.9 -3.6l3.9 3.6l-3.9 3.6zM449.3 255.9l3.9 -3.6l3.9 3.6l-3.9 3.6zM452.8 267.8l3.9 -3.6l3.9 3.6l-3.9 3.6zM456.2 272.8l3.9 -3.6l3.9 3.6l-3.9 3.6zM459.6 292.0l3.9 -3.6l3.9 3.6l-3.9 3.6zM463.0 292.0l3.9 -3.6l3.9 3.6l-3.9 3.6zM466.4 298.6l3.9 -3.6l3.9 3.6l-3.9 3.6zM469.8 312.0l3.9 -3.6l3.9 3.6l-3.9 3.6zM473.2 311.5l3.9 -3.6l3.9 3.6l-3.9 3.6zM476.7 303.0l3.9 -3.6l3.9 3.6l-3.9 3.6zM480.1 291.2l3.9 -3.6l3.9 3.6l-3.9 3.6zM483.5 303.0l3.9 -3.6l3.9 3.6l-3.9 3.6zM486.9 303.0l3.9 -3.6l3.9 3.6l-3.9 3.6zM490.3 280.0l3.9 -3.6l3.9 3.6l-3.9 3.6zM493.7 282.1l3.9 -3.6l3.9 3.6l-3.9 3.6zM497.2 288.0l3.9 -3.6l3.9 3.6l-3.9 3.6zM500.6 268.0l3.9 -3.6l3.9 3.6l-3.9 3.6zM504.0 288.2l3.9 -3.6l3.9 3.6l-3.9 3.6zM507.4 300.0l3.9 -3.6l3.9 3.6l-3.9 3.6zM510.8 288.2l3.9 -3.6l3.9 3.6l-3.9 3.6zM514.2 313.7l3.9 -3.6l3.9 3.6l-3.9 3.6zM517.6 300.0l3.9 -3.6l3.9 3.6l-3.9 3.6zM521.1 279.6l3.9 -3.6l3.9 3.6l-3.9 3.6zM524.5 297.2l3.9 -3.6l3.9 3.6l-3.9 3.6zM527.9 329.9l3.9 -3.6l3.9 3.6l-3.9 3.6zM531.3 379.0l3.9 -3.6l3.9 3.6l-3.9 3.6zM534.7 377.4l3.9 -3.6l3.9 3.6l-3.9 3.6zM538.1 368.5l3.9 -3.6l3.9 3.6l-3.9 3.6zM541.6 352.3l3.9 -3.6l3.9 3.6l-3.9 3.6zM545.0 325.9l3.9 -3.6l3.9 3.6l-3.9 3.6zM548.4 309.8l3.9 -3.6l3.9 3.6l-3.9 3.6zM551.8 304.9l3.9 -3.6l3.9 3.6l-3.9 3.6zM555.2 339.6l3.9 -3.6l3.9 3.6l-3.9 3.6zM558.6 350.3l3.9 -3.6l3.9 3.6l-3.9 3.6zM562.0 340.0l3.9 -3.6l3.9 3.6l-3.9 3.6zM565.5 334.2l3.9 -3.6l3.9 3.6l-3.9 3.6zM568.9 341.4l3.9 -3.6l3.9 3.6l-3.9 3.6zM572.3 358.9l3.9 -3.6l3.9 3.6l-3.9 3.6zM575.7 367.7l3.9 -3.6l3.9 3.6l-3.9 3.6zM579.1 385.4l3.9 -3.6l3.9 3.6l-3.9 3.6zM582.5 370.0l3.9 -3.6l3.9 3.6l-3.9 3.6zM585.9 346.0l3.9 -3.6l3.9 3.6l-3.9 3.6zM589.4 364.4l3.9 -3.6l3.9 3.6l-3.9 3.6zM592.8 368.4l3.9 -3.6l3.9 3.6l-3.9 3.6zM596.2 379.2l3.9 -3.6l3.9 3.6l-3.9 3.6zM599.6 348.0l3.9 -3.6l3.9 3.6l-3.9 3.6zM603.0 331.9l3.9 -3.6l3.9 3.6l-3.9 3.6zM606.4 308.8l3.9 -3.6l3.9 3.6l-3.9 3.6zM609.9 315.9l3.9 -3.6l3.9 3.6l-3.9 3.6zM613.3 301.8l3.9 -3.6l3.9 3.6l-3.9 3.6zM616.7 292.5l3.9 -3.6l3.9 3.6l-3.9 3.6zM620.1 292.5l3.9 -3.6l3.9 3.6l-3.9 3.6zM623.5 292.5l3.9 -3.6l3.9 3.6l-3.9 3.6zM626.9 292.5l3.9 -3.6l3.9 3.6l-3.9 3.6zM630.3 292.5l3.9 -3.6l3.9 3.6l-3.9 3.6zM633.8 268.6l3.9 -3.6l3.9 3.6l-3.9 3.6zM637.2 280.0l3.9 -3.6l3.9 3.6l-3.9 3.6zM640.6 291.7l3.9 -3.6l3.9 3.6l-3.9 3.6zM644.0 291.7l3.9 -3.6l3.9 3.6l-3.9 3.6zM647.4 291.7l3.9 -3.6l3.9 3.6l-3.9 3.6zM650.8 282.0l3.9 -3.6l3.9 3.6l-3.9 3.6zM654.2 275.7l3.9 -3.6l3.9 3.6l-3.9 3.6zM657.7 291.7l3.9 -3.6l3.9 3.6l-3.9 3.6zM661.1 289.5l3.9 -3.6l3.9 3.6l-3.9 3.6zM664.5 277.5l3.9 -3.6l3.9 3.6l-3.9 3.6zM667.9 277.5l3.9 -3.6l3.9 3.6l-3.9 3.6zM671.3 277.5l3.9 -3.6l3.9 3.6l-3.9 3.6zM674.7 277.5l3.9 -3.6l3.9 3.6l-3.9 3.6zM678.1 277.5l3.9 -3.6l3.9 3.6l-3.9 3.6z"/></g><g stroke="#d070c8" fill="none"><path stroke-width="1.9" d="M101.5 423.5V449.8M104.9 410.8V431.8M108.3 410.0V432.9M111.7 416.6V441.5M115.2 408.5V429.2M118.6 417.4V440.5M122.0 415.2V440.5M125.4 401.3V424.1M128.8 390.9V411.8M132.2 390.0V412.9M135.7 396.6V421.5M139.1 388.6V409.0M142.5 407.4V433.4M145.9 407.3V433.6M149.3 395.0V417.9M152.7 383.5V404.2M156.1 383.5V404.2M159.6 391.1V414.3M163.0 401.1V427.3M166.4 390.0V412.9M169.8 390.0V412.9M173.2 390.0V412.9M176.6 390.0V412.9M180.0 399.9V425.9M183.5 378.6V396.3M186.9 398.8V421.6M190.3 397.3V423.6M193.7 377.2V395.2M197.1 386.3V409.1M200.5 395.1V420.7M203.9 375.1V395.0M207.4 393.6V419.8M210.8 382.5V405.4M214.2 365.8V384.2M217.6 382.5V405.4M221.0 382.5V405.4M224.4 382.5V405.4M227.9 366.9V385.6M231.3 382.5V405.4M234.7 382.5V405.4M238.1 392.5V415.4M241.5 392.5V415.4M244.9 392.5V415.4M248.3 392.5V415.4M251.8 371.1V391.5M255.2 380.1V402.9M258.6 354.4V373.1M262.0 389.9V415.9M265.4 370.0V390.1M268.8 380.1V402.9M272.2 380.3V403.2M275.7 380.3V403.2M279.1 380.0V402.8M282.5 372.9V393.7M285.9 389.6V415.2M289.3 401.7V427.9M292.7 381.9V402.4M296.2 389.8V413.9M299.6 376.4V396.7M303.0 385.8V408.7M306.4 390.7V415.0M309.8 381.4V403.0M313.2 401.7V427.9M316.6 380.9V403.7M320.1 376.0V396.9M323.5 382.9V405.7M326.9 382.9V405.8M330.3 382.9V405.8M333.7 392.9V419.0M337.1 394.0V417.6M340.6 367.3V383.5M344.0 391.3V414.2M347.4 401.7V427.9M350.8 391.3V414.2M354.2 382.5V403.0M357.6 358.6V375.7M361.0 389.9V415.4M364.5 373.9V393.6M367.9 386.2V407.7M371.3 398.3V424.5M374.7 398.3V424.5M378.1 372.2V388.4M381.5 379.9V397.7M384.9 402.1V425.0M388.4 429.4V452.3M391.8 435.2V459.9M395.2 438.1V463.7M398.6 409.6V432.4M402.0 401.3V424.2M405.4 401.3V424.2M408.9 384.3V407.2M412.3 376.6V397.3M415.7 384.3V407.2M419.1 362.9V381.3M422.5 393.8V420.0M425.9 379.9V402.7M429.3 379.8V401.6M432.8 383.3V406.2M436.2 387.3V410.2M439.6 387.3V410.2M443.0 411.3V434.2M446.4 413.3V436.1M449.8 425.3V451.4M453.2 415.3V438.2M456.7 415.3V438.2M460.1 401.6V421.5M463.5 400.3V423.2M466.9 410.7V436.9M470.3 382.6V400.8M473.7 400.3V423.2M477.1 400.3V423.2M480.6 382.6V400.8M484.0 399.8V423.8M487.4 375.3V392.9M490.8 396.4V418.2M494.2 408.0V433.3M497.6 400.3V423.2M501.1 400.4V423.1M504.5 400.9V423.8M507.9 428.4V451.3M511.3 450.9V473.7M514.7 470.8V497.1M518.1 468.8V495.0M521.5 432.2V446.4M525.0 431.8V446.0M528.4 474.0V496.9M531.8 512.0V534.9M535.2 552.3V575.1M538.6 581.7V605.5M542.0 595.7V621.9M545.5 578.3V601.2M548.9 532.3V555.2M552.3 482.4V505.3M555.7 446.5V469.4M559.1 412.3V435.2M562.5 408.6V431.5M565.9 405.7V427.7M569.4 396.0V416.3M572.8 415.7V441.9M576.2 404.4V429.4M579.6 398.2V419.0M583.0 397.3V420.2M586.4 407.7V433.9M589.8 388.0V408.3M593.3 397.3V420.2M596.7 397.3V420.2M600.1 400.7V423.6M603.5 426.7V449.5M606.9 451.4V474.3M610.3 476.1V499.0M613.8 484.7V507.5M617.2 494.1V516.9M620.6 506.0V528.9M624.0 522.0V544.8M627.4 547.3V571.3M630.8 547.3V571.3M634.2 543.8V565.6M637.7 544.1V566.0M641.1 547.2V570.3M644.5 557.0V582.9M647.9 546.6V569.3M651.3 556.9V583.0M654.7 514.1V533.3M658.1 509.0V530.8M661.6 525.9V552.2M665.0 509.9V533.2M668.4 485.3V508.2M671.8 481.2V504.0M675.2 453.6V476.4M678.6 449.1V470.6M682.0 419.2V435.0"/><path stroke-width="1.95" d="M97.6 435.7l3.9 -3.6l3.9 3.6l-3.9 3.6zM101.0 420.7l3.9 -3.6l3.9 3.6l-3.9 3.6zM104.4 420.7l3.9 -3.6l3.9 3.6l-3.9 3.6zM107.8 428.2l3.9 -3.6l3.9 3.6l-3.9 3.6zM111.3 418.2l3.9 -3.6l3.9 3.6l-3.9 3.6zM114.7 428.2l3.9 -3.6l3.9 3.6l-3.9 3.6zM118.1 426.9l3.9 -3.6l3.9 3.6l-3.9 3.6zM121.5 412.0l3.9 -3.6l3.9 3.6l-3.9 3.6zM124.9 400.7l3.9 -3.6l3.9 3.6l-3.9 3.6zM128.3 400.7l3.9 -3.6l3.9 3.6l-3.9 3.6zM131.8 408.2l3.9 -3.6l3.9 3.6l-3.9 3.6zM135.2 398.2l3.9 -3.6l3.9 3.6l-3.9 3.6zM138.6 419.5l3.9 -3.6l3.9 3.6l-3.9 3.6zM142.0 419.5l3.9 -3.6l3.9 3.6l-3.9 3.6zM145.4 405.7l3.9 -3.6l3.9 3.6l-3.9 3.6zM148.8 393.2l3.9 -3.6l3.9 3.6l-3.9 3.6zM152.2 393.2l3.9 -3.6l3.9 3.6l-3.9 3.6zM155.7 402.0l3.9 -3.6l3.9 3.6l-3.9 3.6zM159.1 413.2l3.9 -3.6l3.9 3.6l-3.9 3.6zM162.5 400.7l3.9 -3.6l3.9 3.6l-3.9 3.6zM165.9 400.7l3.9 -3.6l3.9 3.6l-3.9 3.6zM169.3 400.7l3.9 -3.6l3.9 3.6l-3.9 3.6zM172.7 400.7l3.9 -3.6l3.9 3.6l-3.9 3.6zM176.1 412.0l3.9 -3.6l3.9 3.6l-3.9 3.6zM179.6 387.0l3.9 -3.6l3.9 3.6l-3.9 3.6zM183.0 409.5l3.9 -3.6l3.9 3.6l-3.9 3.6zM186.4 409.5l3.9 -3.6l3.9 3.6l-3.9 3.6zM189.8 385.8l3.9 -3.6l3.9 3.6l-3.9 3.6zM193.2 397.0l3.9 -3.6l3.9 3.6l-3.9 3.6zM196.6 407.0l3.9 -3.6l3.9 3.6l-3.9 3.6zM200.0 384.5l3.9 -3.6l3.9 3.6l-3.9 3.6zM203.5 405.7l3.9 -3.6l3.9 3.6l-3.9 3.6zM206.9 393.2l3.9 -3.6l3.9 3.6l-3.9 3.6zM210.3 374.5l3.9 -3.6l3.9 3.6l-3.9 3.6zM213.7 393.2l3.9 -3.6l3.9 3.6l-3.9 3.6zM217.1 393.2l3.9 -3.6l3.9 3.6l-3.9 3.6zM220.5 393.2l3.9 -3.6l3.9 3.6l-3.9 3.6zM224.0 375.8l3.9 -3.6l3.9 3.6l-3.9 3.6zM227.4 393.2l3.9 -3.6l3.9 3.6l-3.9 3.6zM230.8 393.2l3.9 -3.6l3.9 3.6l-3.9 3.6zM234.2 403.2l3.9 -3.6l3.9 3.6l-3.9 3.6zM237.6 403.2l3.9 -3.6l3.9 3.6l-3.9 3.6zM241.0 403.2l3.9 -3.6l3.9 3.6l-3.9 3.6zM244.4 403.2l3.9 -3.6l3.9 3.6l-3.9 3.6zM247.9 380.8l3.9 -3.6l3.9 3.6l-3.9 3.6zM251.3 390.7l3.9 -3.6l3.9 3.6l-3.9 3.6zM254.7 363.3l3.9 -3.6l3.9 3.6l-3.9 3.6zM258.1 402.0l3.9 -3.6l3.9 3.6l-3.9 3.6zM261.5 379.5l3.9 -3.6l3.9 3.6l-3.9 3.6zM264.9 390.7l3.9 -3.6l3.9 3.6l-3.9 3.6zM268.4 391.0l3.9 -3.6l3.9 3.6l-3.9 3.6zM271.8 391.0l3.9 -3.6l3.9 3.6l-3.9 3.6zM275.2 390.7l3.9 -3.6l3.9 3.6l-3.9 3.6zM278.6 382.7l3.9 -3.6l3.9 3.6l-3.9 3.6zM282.0 401.5l3.9 -3.6l3.9 3.6l-3.9 3.6zM285.4 413.8l3.9 -3.6l3.9 3.6l-3.9 3.6zM288.8 391.6l3.9 -3.6l3.9 3.6l-3.9 3.6zM292.3 401.0l3.9 -3.6l3.9 3.6l-3.9 3.6zM295.7 386.0l3.9 -3.6l3.9 3.6l-3.9 3.6zM299.1 396.5l3.9 -3.6l3.9 3.6l-3.9 3.6zM302.5 402.0l3.9 -3.6l3.9 3.6l-3.9 3.6zM305.9 391.6l3.9 -3.6l3.9 3.6l-3.9 3.6zM309.3 413.8l3.9 -3.6l3.9 3.6l-3.9 3.6zM312.7 391.6l3.9 -3.6l3.9 3.6l-3.9 3.6zM316.2 385.8l3.9 -3.6l3.9 3.6l-3.9 3.6zM319.6 393.5l3.9 -3.6l3.9 3.6l-3.9 3.6zM323.0 393.6l3.9 -3.6l3.9 3.6l-3.9 3.6zM326.4 393.6l3.9 -3.6l3.9 3.6l-3.9 3.6zM329.8 405.0l3.9 -3.6l3.9 3.6l-3.9 3.6zM333.2 405.0l3.9 -3.6l3.9 3.6l-3.9 3.6zM336.7 375.0l3.9 -3.6l3.9 3.6l-3.9 3.6zM340.1 402.0l3.9 -3.6l3.9 3.6l-3.9 3.6zM343.5 413.8l3.9 -3.6l3.9 3.6l-3.9 3.6zM346.9 402.0l3.9 -3.6l3.9 3.6l-3.9 3.6zM350.3 392.2l3.9 -3.6l3.9 3.6l-3.9 3.6zM353.7 366.7l3.9 -3.6l3.9 3.6l-3.9 3.6zM357.1 401.8l3.9 -3.6l3.9 3.6l-3.9 3.6zM360.6 383.2l3.9 -3.6l3.9 3.6l-3.9 3.6zM364.0 396.3l3.9 -3.6l3.9 3.6l-3.9 3.6zM367.4 410.4l3.9 -3.6l3.9 3.6l-3.9 3.6zM370.8 410.4l3.9 -3.6l3.9 3.6l-3.9 3.6zM374.2 379.9l3.9 -3.6l3.9 3.6l-3.9 3.6zM377.6 388.4l3.9 -3.6l3.9 3.6l-3.9 3.6zM381.0 412.8l3.9 -3.6l3.9 3.6l-3.9 3.6zM384.5 440.1l3.9 -3.6l3.9 3.6l-3.9 3.6zM387.9 446.7l3.9 -3.6l3.9 3.6l-3.9 3.6zM391.3 450.0l3.9 -3.6l3.9 3.6l-3.9 3.6zM394.7 420.3l3.9 -3.6l3.9 3.6l-3.9 3.6zM398.1 412.0l3.9 -3.6l3.9 3.6l-3.9 3.6zM401.5 412.0l3.9 -3.6l3.9 3.6l-3.9 3.6zM405.0 395.0l3.9 -3.6l3.9 3.6l-3.9 3.6zM408.4 386.3l3.9 -3.6l3.9 3.6l-3.9 3.6zM411.8 395.0l3.9 -3.6l3.9 3.6l-3.9 3.6zM415.2 371.7l3.9 -3.6l3.9 3.6l-3.9 3.6zM418.6 405.9l3.9 -3.6l3.9 3.6l-3.9 3.6zM422.0 390.5l3.9 -3.6l3.9 3.6l-3.9 3.6zM425.4 390.0l3.9 -3.6l3.9 3.6l-3.9 3.6zM428.9 394.0l3.9 -3.6l3.9 3.6l-3.9 3.6zM432.3 398.0l3.9 -3.6l3.9 3.6l-3.9 3.6zM435.7 398.0l3.9 -3.6l3.9 3.6l-3.9 3.6zM439.1 422.0l3.9 -3.6l3.9 3.6l-3.9 3.6zM442.5 424.0l3.9 -3.6l3.9 3.6l-3.9 3.6zM445.9 437.4l3.9 -3.6l3.9 3.6l-3.9 3.6zM449.3 426.0l3.9 -3.6l3.9 3.6l-3.9 3.6zM452.8 426.0l3.9 -3.6l3.9 3.6l-3.9 3.6zM456.2 411.0l3.9 -3.6l3.9 3.6l-3.9 3.6zM459.6 411.0l3.9 -3.6l3.9 3.6l-3.9 3.6zM463.0 422.8l3.9 -3.6l3.9 3.6l-3.9 3.6zM466.4 391.2l3.9 -3.6l3.9 3.6l-3.9 3.6zM469.8 411.0l3.9 -3.6l3.9 3.6l-3.9 3.6zM473.2 411.0l3.9 -3.6l3.9 3.6l-3.9 3.6zM476.7 391.2l3.9 -3.6l3.9 3.6l-3.9 3.6zM480.1 411.0l3.9 -3.6l3.9 3.6l-3.9 3.6zM483.5 383.6l3.9 -3.6l3.9 3.6l-3.9 3.6zM486.9 406.6l3.9 -3.6l3.9 3.6l-3.9 3.6zM490.3 419.7l3.9 -3.6l3.9 3.6l-3.9 3.6zM493.7 411.0l3.9 -3.6l3.9 3.6l-3.9 3.6zM497.2 411.0l3.9 -3.6l3.9 3.6l-3.9 3.6zM500.6 411.6l3.9 -3.6l3.9 3.6l-3.9 3.6zM504.0 439.1l3.9 -3.6l3.9 3.6l-3.9 3.6zM507.4 461.6l3.9 -3.6l3.9 3.6l-3.9 3.6zM510.8 483.0l3.9 -3.6l3.9 3.6l-3.9 3.6zM514.2 481.0l3.9 -3.6l3.9 3.6l-3.9 3.6zM517.6 439.0l3.9 -3.6l3.9 3.6l-3.9 3.6zM521.1 438.6l3.9 -3.6l3.9 3.6l-3.9 3.6zM524.5 484.7l3.9 -3.6l3.9 3.6l-3.9 3.6zM527.9 522.7l3.9 -3.6l3.9 3.6l-3.9 3.6zM531.3 563.0l3.9 -3.6l3.9 3.6l-3.9 3.6zM534.7 592.8l3.9 -3.6l3.9 3.6l-3.9 3.6zM538.1 607.8l3.9 -3.6l3.9 3.6l-3.9 3.6zM541.6 589.0l3.9 -3.6l3.9 3.6l-3.9 3.6zM545.0 543.0l3.9 -3.6l3.9 3.6l-3.9 3.6zM548.4 493.1l3.9 -3.6l3.9 3.6l-3.9 3.6zM551.8 457.2l3.9 -3.6l3.9 3.6l-3.9 3.6zM555.2 423.0l3.9 -3.6l3.9 3.6l-3.9 3.6zM558.6 419.3l3.9 -3.6l3.9 3.6l-3.9 3.6zM562.0 416.0l3.9 -3.6l3.9 3.6l-3.9 3.6zM565.5 405.6l3.9 -3.6l3.9 3.6l-3.9 3.6zM568.9 427.8l3.9 -3.6l3.9 3.6l-3.9 3.6zM572.3 416.0l3.9 -3.6l3.9 3.6l-3.9 3.6zM575.7 408.0l3.9 -3.6l3.9 3.6l-3.9 3.6zM579.1 408.0l3.9 -3.6l3.9 3.6l-3.9 3.6zM582.5 419.8l3.9 -3.6l3.9 3.6l-3.9 3.6zM585.9 397.6l3.9 -3.6l3.9 3.6l-3.9 3.6zM589.4 408.0l3.9 -3.6l3.9 3.6l-3.9 3.6zM592.8 408.0l3.9 -3.6l3.9 3.6l-3.9 3.6zM596.2 411.4l3.9 -3.6l3.9 3.6l-3.9 3.6zM599.6 437.4l3.9 -3.6l3.9 3.6l-3.9 3.6zM603.0 462.1l3.9 -3.6l3.9 3.6l-3.9 3.6zM606.4 486.8l3.9 -3.6l3.9 3.6l-3.9 3.6zM609.9 495.4l3.9 -3.6l3.9 3.6l-3.9 3.6zM613.3 504.8l3.9 -3.6l3.9 3.6l-3.9 3.6zM616.7 516.7l3.9 -3.6l3.9 3.6l-3.9 3.6zM620.1 532.7l3.9 -3.6l3.9 3.6l-3.9 3.6zM623.5 558.5l3.9 -3.6l3.9 3.6l-3.9 3.6zM626.9 558.5l3.9 -3.6l3.9 3.6l-3.9 3.6zM630.3 554.0l3.9 -3.6l3.9 3.6l-3.9 3.6zM633.8 554.4l3.9 -3.6l3.9 3.6l-3.9 3.6zM637.2 558.0l3.9 -3.6l3.9 3.6l-3.9 3.6zM640.6 569.0l3.9 -3.6l3.9 3.6l-3.9 3.6zM644.0 557.2l3.9 -3.6l3.9 3.6l-3.9 3.6zM647.4 569.0l3.9 -3.6l3.9 3.6l-3.9 3.6zM650.8 523.2l3.9 -3.6l3.9 3.6l-3.9 3.6zM654.2 519.2l3.9 -3.6l3.9 3.6l-3.9 3.6zM657.7 538.1l3.9 -3.6l3.9 3.6l-3.9 3.6zM661.1 520.8l3.9 -3.6l3.9 3.6l-3.9 3.6zM664.5 496.0l3.9 -3.6l3.9 3.6l-3.9 3.6zM667.9 491.9l3.9 -3.6l3.9 3.6l-3.9 3.6zM671.3 464.2l3.9 -3.6l3.9 3.6l-3.9 3.6zM674.7 459.2l3.9 -3.6l3.9 3.6l-3.9 3.6zM678.1 426.8l3.9 -3.6l3.9 3.6l-3.9 3.6z"/></g><g stroke="#404040" fill="none"><path stroke-width="1.9" d="M101.5 498.8V521.2M104.9 498.1V520.4M108.3 492.2V514.5M111.7 491.6V513.7M115.2 491.6V513.8M118.6 502.0V527.5M122.0 482.2V502.0M125.4 490.3V515.4M128.8 472.1V493.7M132.2 474.6V496.8M135.7 474.6V496.8M139.1 481.2V505.5M142.5 460.5V481.1M145.9 466.0V490.1M149.3 448.3V467.5M152.7 450.8V469.0M156.1 469.6V491.8M159.6 469.6V491.8M163.0 474.0V497.6M166.4 464.1V486.4M169.8 464.1V486.4M173.2 455.4V475.4M176.6 473.3V498.4M180.0 472.3V498.6M183.5 435.9V455.8M186.9 444.2V466.4M190.3 444.6V466.8M193.7 445.4V467.6M197.1 467.9V494.2M200.5 448.3V470.5M203.9 450.4V467.9M207.4 467.8V494.1M210.8 467.9V494.0M214.2 439.9V458.2M217.6 455.6V477.8M221.0 455.6V477.9M224.4 465.1V490.3M227.9 446.7V466.7M231.3 455.6V477.8M234.7 455.6V477.8M238.1 455.6V477.8M241.5 461.9V486.0M244.9 444.9V464.3M248.3 462.9V489.1M251.8 443.4V465.4M255.2 446.4V464.1M258.6 462.8V489.1M262.0 464.1V487.4M265.4 444.3V462.5M268.8 460.4V482.6M272.2 444.3V464.3M275.7 462.8V485.7M279.1 453.7V473.5M282.5 463.1V485.3M285.9 461.8V486.9M289.3 453.7V473.5M292.7 452.6V474.9M296.2 461.8V486.9M299.6 452.6V474.9M303.0 443.3V465.6M306.4 443.3V465.6M309.8 427.9V448.3M313.2 434.8V457.1M316.6 420.8V441.3M320.1 450.9V477.2M323.5 422.3V439.4M326.9 443.3V465.6M330.3 443.3V465.6M333.7 435.7V456.0M337.1 461.8V486.9M340.6 452.6V474.9M344.0 461.8V486.9M347.4 436.6V454.8M350.8 437.6V453.7M354.2 463.1V485.3M357.6 463.1V485.3M361.0 463.1V485.3M364.5 453.7V473.5M367.9 461.8V486.9M371.3 452.6V474.9M374.7 452.6V474.9M378.1 436.6V454.8M381.5 452.6V474.9M384.9 452.6V474.9M388.4 444.3V464.3M391.8 461.8V486.9M395.2 435.7V456.0M398.6 452.6V474.9M402.0 443.3V465.6M405.4 451.5V476.3M408.9 435.7V456.0M412.3 444.3V464.3M415.7 451.5V476.3M419.1 452.6V474.9M422.5 444.3V464.3M425.9 452.6V474.9M429.3 461.8V486.9M432.8 461.8V486.9M436.2 453.7V473.5M439.6 444.3V464.3M443.0 461.8V486.9M446.4 444.3V464.3M449.8 452.7V474.8M453.2 453.1V475.5M456.7 453.7V476.1M460.1 446.0V466.1M463.5 455.0V477.3M466.9 455.5V477.9M470.3 456.1V478.5M473.7 447.8V467.8M477.1 456.1V478.4M480.6 466.6V488.8M484.0 466.6V488.8M487.4 466.6V488.8M490.8 441.1V457.2M494.2 465.3V490.4M497.6 440.1V458.3M501.1 456.1V478.4M504.5 465.3V490.4M507.9 457.2V477.0M511.3 477.0V502.5M514.7 466.6V488.8M518.1 466.6V488.8M521.5 448.8V466.6M525.0 465.3V490.4M528.4 447.8V467.8M531.8 456.1V478.4M535.2 456.1V478.4M538.6 465.3V490.4M542.0 456.1V478.4M545.5 456.1V478.4M548.9 456.1V478.4M552.3 456.1V478.4M555.7 466.6V488.8M559.1 466.6V488.8M562.5 466.6V488.8M565.9 448.8V466.6M569.4 466.6V488.8M572.8 466.6V488.8M576.2 466.6V488.8M579.6 477.0V502.5M583.0 433.1V449.8M586.4 440.1V458.3M589.8 456.1V478.4M593.3 465.3V490.4M596.7 456.1V478.4M600.1 456.1V478.4M603.5 456.1V478.4M606.9 456.1V478.4M610.3 447.8V467.8M613.8 446.8V469.1M617.2 464.8V491.1M620.6 448.8V466.6M624.0 466.6V488.8M627.4 466.6V488.8M630.8 457.2V477.0M634.2 465.3V490.4M637.7 456.1V478.4M641.1 446.8V469.1M644.5 446.8V469.1M647.9 439.2V459.5M651.3 455.0V479.8M654.7 440.1V458.3M658.1 465.3V490.4M661.6 457.2V477.0M665.0 466.6V488.8M668.4 465.3V490.4M671.8 456.1V478.4M675.2 440.1V458.3M678.6 456.1V478.4M682.0 446.8V469.1"/><path stroke-width="1.95" d="M97.6 509.3l3.9 -3.6l3.9 3.6l-3.9 3.6zM101.0 508.5l3.9 -3.6l3.9 3.6l-3.9 3.6zM104.4 502.7l3.9 -3.6l3.9 3.6l-3.9 3.6zM107.8 502.0l3.9 -3.6l3.9 3.6l-3.9 3.6zM111.3 502.0l3.9 -3.6l3.9 3.6l-3.9 3.6zM114.7 513.8l3.9 -3.6l3.9 3.6l-3.9 3.6zM118.1 491.6l3.9 -3.6l3.9 3.6l-3.9 3.6zM121.5 502.0l3.9 -3.6l3.9 3.6l-3.9 3.6zM124.9 482.2l3.9 -3.6l3.9 3.6l-3.9 3.6zM128.3 485.0l3.9 -3.6l3.9 3.6l-3.9 3.6zM131.8 485.0l3.9 -3.6l3.9 3.6l-3.9 3.6zM135.2 492.5l3.9 -3.6l3.9 3.6l-3.9 3.6zM138.6 470.2l3.9 -3.6l3.9 3.6l-3.9 3.6zM142.0 477.2l3.9 -3.6l3.9 3.6l-3.9 3.6zM145.4 457.4l3.9 -3.6l3.9 3.6l-3.9 3.6zM148.8 459.4l3.9 -3.6l3.9 3.6l-3.9 3.6zM152.2 480.0l3.9 -3.6l3.9 3.6l-3.9 3.6zM155.7 480.0l3.9 -3.6l3.9 3.6l-3.9 3.6zM159.1 485.0l3.9 -3.6l3.9 3.6l-3.9 3.6zM162.5 474.6l3.9 -3.6l3.9 3.6l-3.9 3.6zM165.9 474.6l3.9 -3.6l3.9 3.6l-3.9 3.6zM169.3 464.8l3.9 -3.6l3.9 3.6l-3.9 3.6zM172.7 485.0l3.9 -3.6l3.9 3.6l-3.9 3.6zM176.1 484.5l3.9 -3.6l3.9 3.6l-3.9 3.6zM179.6 445.3l3.9 -3.6l3.9 3.6l-3.9 3.6zM183.0 454.6l3.9 -3.6l3.9 3.6l-3.9 3.6zM186.4 455.0l3.9 -3.6l3.9 3.6l-3.9 3.6zM189.8 455.8l3.9 -3.6l3.9 3.6l-3.9 3.6zM193.2 480.1l3.9 -3.6l3.9 3.6l-3.9 3.6zM196.6 458.7l3.9 -3.6l3.9 3.6l-3.9 3.6zM200.0 458.7l3.9 -3.6l3.9 3.6l-3.9 3.6zM203.5 480.0l3.9 -3.6l3.9 3.6l-3.9 3.6zM206.9 480.0l3.9 -3.6l3.9 3.6l-3.9 3.6zM210.3 448.6l3.9 -3.6l3.9 3.6l-3.9 3.6zM213.7 466.0l3.9 -3.6l3.9 3.6l-3.9 3.6zM217.1 466.1l3.9 -3.6l3.9 3.6l-3.9 3.6zM220.5 476.8l3.9 -3.6l3.9 3.6l-3.9 3.6zM224.0 456.1l3.9 -3.6l3.9 3.6l-3.9 3.6zM227.4 466.0l3.9 -3.6l3.9 3.6l-3.9 3.6zM230.8 466.0l3.9 -3.6l3.9 3.6l-3.9 3.6zM234.2 466.0l3.9 -3.6l3.9 3.6l-3.9 3.6zM237.6 473.1l3.9 -3.6l3.9 3.6l-3.9 3.6zM241.0 454.1l3.9 -3.6l3.9 3.6l-3.9 3.6zM244.4 475.0l3.9 -3.6l3.9 3.6l-3.9 3.6zM247.9 453.7l3.9 -3.6l3.9 3.6l-3.9 3.6zM251.3 454.8l3.9 -3.6l3.9 3.6l-3.9 3.6zM254.7 475.0l3.9 -3.6l3.9 3.6l-3.9 3.6zM258.1 475.0l3.9 -3.6l3.9 3.6l-3.9 3.6zM261.5 452.9l3.9 -3.6l3.9 3.6l-3.9 3.6zM264.9 470.8l3.9 -3.6l3.9 3.6l-3.9 3.6zM268.4 453.7l3.9 -3.6l3.9 3.6l-3.9 3.6zM271.8 473.5l3.9 -3.6l3.9 3.6l-3.9 3.6zM275.2 463.1l3.9 -3.6l3.9 3.6l-3.9 3.6zM278.6 473.5l3.9 -3.6l3.9 3.6l-3.9 3.6zM282.0 473.5l3.9 -3.6l3.9 3.6l-3.9 3.6zM285.4 463.1l3.9 -3.6l3.9 3.6l-3.9 3.6zM288.8 463.1l3.9 -3.6l3.9 3.6l-3.9 3.6zM292.3 473.5l3.9 -3.6l3.9 3.6l-3.9 3.6zM295.7 463.1l3.9 -3.6l3.9 3.6l-3.9 3.6zM299.1 453.7l3.9 -3.6l3.9 3.6l-3.9 3.6zM302.5 453.7l3.9 -3.6l3.9 3.6l-3.9 3.6zM305.9 437.6l3.9 -3.6l3.9 3.6l-3.9 3.6zM309.3 445.3l3.9 -3.6l3.9 3.6l-3.9 3.6zM312.7 430.5l3.9 -3.6l3.9 3.6l-3.9 3.6zM316.2 463.1l3.9 -3.6l3.9 3.6l-3.9 3.6zM319.6 430.5l3.9 -3.6l3.9 3.6l-3.9 3.6zM323.0 453.7l3.9 -3.6l3.9 3.6l-3.9 3.6zM326.4 453.7l3.9 -3.6l3.9 3.6l-3.9 3.6zM329.8 445.3l3.9 -3.6l3.9 3.6l-3.9 3.6zM333.2 473.5l3.9 -3.6l3.9 3.6l-3.9 3.6zM336.7 463.1l3.9 -3.6l3.9 3.6l-3.9 3.6zM340.1 473.5l3.9 -3.6l3.9 3.6l-3.9 3.6zM343.5 445.3l3.9 -3.6l3.9 3.6l-3.9 3.6zM346.9 445.3l3.9 -3.6l3.9 3.6l-3.9 3.6zM350.3 473.5l3.9 -3.6l3.9 3.6l-3.9 3.6zM353.7 473.5l3.9 -3.6l3.9 3.6l-3.9 3.6zM357.1 473.5l3.9 -3.6l3.9 3.6l-3.9 3.6zM360.6 463.1l3.9 -3.6l3.9 3.6l-3.9 3.6zM364.0 473.5l3.9 -3.6l3.9 3.6l-3.9 3.6zM367.4 463.1l3.9 -3.6l3.9 3.6l-3.9 3.6zM370.8 463.1l3.9 -3.6l3.9 3.6l-3.9 3.6zM374.2 445.3l3.9 -3.6l3.9 3.6l-3.9 3.6zM377.6 463.1l3.9 -3.6l3.9 3.6l-3.9 3.6zM381.0 463.1l3.9 -3.6l3.9 3.6l-3.9 3.6zM384.5 453.7l3.9 -3.6l3.9 3.6l-3.9 3.6zM387.9 473.5l3.9 -3.6l3.9 3.6l-3.9 3.6zM391.3 445.3l3.9 -3.6l3.9 3.6l-3.9 3.6zM394.7 463.1l3.9 -3.6l3.9 3.6l-3.9 3.6zM398.1 453.7l3.9 -3.6l3.9 3.6l-3.9 3.6zM401.5 463.1l3.9 -3.6l3.9 3.6l-3.9 3.6zM405.0 445.3l3.9 -3.6l3.9 3.6l-3.9 3.6zM408.4 453.7l3.9 -3.6l3.9 3.6l-3.9 3.6zM411.8 463.1l3.9 -3.6l3.9 3.6l-3.9 3.6zM415.2 463.1l3.9 -3.6l3.9 3.6l-3.9 3.6zM418.6 453.7l3.9 -3.6l3.9 3.6l-3.9 3.6zM422.0 463.1l3.9 -3.6l3.9 3.6l-3.9 3.6zM425.4 473.5l3.9 -3.6l3.9 3.6l-3.9 3.6zM428.9 473.5l3.9 -3.6l3.9 3.6l-3.9 3.6zM432.3 463.1l3.9 -3.6l3.9 3.6l-3.9 3.6zM435.7 453.7l3.9 -3.6l3.9 3.6l-3.9 3.6zM439.1 473.5l3.9 -3.6l3.9 3.6l-3.9 3.6zM442.5 453.7l3.9 -3.6l3.9 3.6l-3.9 3.6zM445.9 463.1l3.9 -3.6l3.9 3.6l-3.9 3.6zM449.3 463.6l3.9 -3.6l3.9 3.6l-3.9 3.6zM452.8 464.2l3.9 -3.6l3.9 3.6l-3.9 3.6zM456.2 455.5l3.9 -3.6l3.9 3.6l-3.9 3.6zM459.6 465.4l3.9 -3.6l3.9 3.6l-3.9 3.6zM463.0 466.0l3.9 -3.6l3.9 3.6l-3.9 3.6zM466.4 466.6l3.9 -3.6l3.9 3.6l-3.9 3.6zM469.8 457.2l3.9 -3.6l3.9 3.6l-3.9 3.6zM473.2 466.6l3.9 -3.6l3.9 3.6l-3.9 3.6zM476.7 477.0l3.9 -3.6l3.9 3.6l-3.9 3.6zM480.1 477.0l3.9 -3.6l3.9 3.6l-3.9 3.6zM483.5 477.0l3.9 -3.6l3.9 3.6l-3.9 3.6zM486.9 448.8l3.9 -3.6l3.9 3.6l-3.9 3.6zM490.3 477.0l3.9 -3.6l3.9 3.6l-3.9 3.6zM493.7 448.8l3.9 -3.6l3.9 3.6l-3.9 3.6zM497.2 466.6l3.9 -3.6l3.9 3.6l-3.9 3.6zM500.6 477.0l3.9 -3.6l3.9 3.6l-3.9 3.6zM504.0 466.6l3.9 -3.6l3.9 3.6l-3.9 3.6zM507.4 488.8l3.9 -3.6l3.9 3.6l-3.9 3.6zM510.8 477.0l3.9 -3.6l3.9 3.6l-3.9 3.6zM514.2 477.0l3.9 -3.6l3.9 3.6l-3.9 3.6zM517.6 457.2l3.9 -3.6l3.9 3.6l-3.9 3.6zM521.1 477.0l3.9 -3.6l3.9 3.6l-3.9 3.6zM524.5 457.2l3.9 -3.6l3.9 3.6l-3.9 3.6zM527.9 466.6l3.9 -3.6l3.9 3.6l-3.9 3.6zM531.3 466.6l3.9 -3.6l3.9 3.6l-3.9 3.6zM534.7 477.0l3.9 -3.6l3.9 3.6l-3.9 3.6zM538.1 466.6l3.9 -3.6l3.9 3.6l-3.9 3.6zM541.6 466.6l3.9 -3.6l3.9 3.6l-3.9 3.6zM545.0 466.6l3.9 -3.6l3.9 3.6l-3.9 3.6zM548.4 466.6l3.9 -3.6l3.9 3.6l-3.9 3.6zM551.8 477.0l3.9 -3.6l3.9 3.6l-3.9 3.6zM555.2 477.0l3.9 -3.6l3.9 3.6l-3.9 3.6zM558.6 477.0l3.9 -3.6l3.9 3.6l-3.9 3.6zM562.0 457.2l3.9 -3.6l3.9 3.6l-3.9 3.6zM565.5 477.0l3.9 -3.6l3.9 3.6l-3.9 3.6zM568.9 477.0l3.9 -3.6l3.9 3.6l-3.9 3.6zM572.3 477.0l3.9 -3.6l3.9 3.6l-3.9 3.6zM575.7 488.8l3.9 -3.6l3.9 3.6l-3.9 3.6zM579.1 441.1l3.9 -3.6l3.9 3.6l-3.9 3.6zM582.5 448.8l3.9 -3.6l3.9 3.6l-3.9 3.6zM585.9 466.6l3.9 -3.6l3.9 3.6l-3.9 3.6zM589.4 477.0l3.9 -3.6l3.9 3.6l-3.9 3.6zM592.8 466.6l3.9 -3.6l3.9 3.6l-3.9 3.6zM596.2 466.6l3.9 -3.6l3.9 3.6l-3.9 3.6zM599.6 466.6l3.9 -3.6l3.9 3.6l-3.9 3.6zM603.0 466.6l3.9 -3.6l3.9 3.6l-3.9 3.6zM606.4 457.2l3.9 -3.6l3.9 3.6l-3.9 3.6zM609.9 457.2l3.9 -3.6l3.9 3.6l-3.9 3.6zM613.3 477.0l3.9 -3.6l3.9 3.6l-3.9 3.6zM616.7 457.2l3.9 -3.6l3.9 3.6l-3.9 3.6zM620.1 477.0l3.9 -3.6l3.9 3.6l-3.9 3.6zM623.5 477.0l3.9 -3.6l3.9 3.6l-3.9 3.6zM626.9 466.6l3.9 -3.6l3.9 3.6l-3.9 3.6zM630.3 477.0l3.9 -3.6l3.9 3.6l-3.9 3.6zM633.8 466.6l3.9 -3.6l3.9 3.6l-3.9 3.6zM637.2 457.2l3.9 -3.6l3.9 3.6l-3.9 3.6zM640.6 457.2l3.9 -3.6l3.9 3.6l-3.9 3.6zM644.0 448.8l3.9 -3.6l3.9 3.6l-3.9 3.6zM647.4 466.6l3.9 -3.6l3.9 3.6l-3.9 3.6zM650.8 448.8l3.9 -3.6l3.9 3.6l-3.9 3.6zM654.2 477.0l3.9 -3.6l3.9 3.6l-3.9 3.6zM657.7 466.6l3.9 -3.6l3.9 3.6l-3.9 3.6zM661.1 477.0l3.9 -3.6l3.9 3.6l-3.9 3.6zM664.5 477.0l3.9 -3.6l3.9 3.6l-3.9 3.6zM667.9 466.6l3.9 -3.6l3.9 3.6l-3.9 3.6zM671.3 448.8l3.9 -3.6l3.9 3.6l-3.9 3.6zM674.7 466.6l3.9 -3.6l3.9 3.6l-3.9 3.6zM678.1 457.2l3.9 -3.6l3.9 3.6l-3.9 3.6z"/></g><g stroke="#4a86c8" fill="none"><path stroke-width="1.9" d="M101.5 598.8V623.0M104.9 588.7V610.0M108.3 596.0V620.1M111.7 581.0V600.8M115.2 594.0V617.5M118.6 593.6V618.1M122.0 590.1V613.5M125.4 584.4V607.9M128.8 570.6V592.7M132.2 544.3V561.2M135.7 574.6V599.5M139.1 569.2V595.5M142.5 560.5V584.0M145.9 542.4V562.6M149.3 554.0V577.5M152.7 554.0V577.6M156.1 553.6V577.0M159.6 543.7V564.4M163.0 552.9V578.7M166.4 540.4V562.3M169.8 545.7V569.1M173.2 546.0V569.6M176.6 546.0V569.6M180.0 535.1V556.4M183.5 542.3V565.6M186.9 542.5V566.1M190.3 549.0V574.6M193.7 523.9V540.8M197.1 551.0V574.5M200.5 551.0V574.5M203.9 551.0V574.5M207.4 537.8V561.3M210.8 527.1V547.6M214.2 534.2V556.6M217.6 543.9V570.0M221.0 544.9V568.5M224.4 536.6V557.8M227.9 544.0V568.6M231.3 532.2V554.6M234.7 539.2V565.1M238.1 527.0V550.5M241.5 527.0V550.5M244.9 517.8V538.6M248.3 527.0V550.5M251.8 536.4V559.8M255.2 537.6V561.1M258.6 537.6V561.1M262.0 537.6V561.1M265.4 532.5V555.8M268.8 502.5V518.5M272.2 533.0V556.5M275.7 533.0V556.5M279.1 533.0V556.5M282.5 529.5V551.9M285.9 533.0V556.5M289.3 529.5V551.9M292.7 533.0V556.5M296.2 542.8V569.1M299.6 540.0V565.7M303.0 528.1V551.6M306.4 512.6V536.0M309.8 503.1V523.9M313.2 502.4V523.1M316.6 517.5V540.9M320.1 527.8V554.1M323.5 529.0V552.5M326.9 518.4V538.9M330.3 528.7V552.9M333.7 525.3V551.3M337.1 502.1V519.4M340.6 510.2V530.4M344.0 525.8V552.0M347.4 521.9V545.4M350.8 515.3V536.9M354.2 521.9V547.8M357.6 504.7V525.5M361.0 514.0V537.5M364.5 514.0V537.5M367.9 528.6V554.2M371.3 531.0V554.9M374.7 522.8V543.8M378.1 531.2V554.7M381.5 532.0V555.5M384.9 543.8V567.3M388.4 556.8V580.3M391.8 582.1V608.4M395.2 576.7V602.9M398.6 544.0V567.5M402.0 544.0V567.4M405.4 534.3V557.7M408.9 521.4V544.9M412.3 516.5V540.0M415.7 516.5V540.0M419.1 491.2V508.2M422.5 522.8V549.1M425.9 504.3V527.7M429.3 513.6V537.1M432.8 505.3V526.4M436.2 524.0V547.5M439.6 524.4V547.9M443.0 535.0V558.5M446.4 535.0V558.5M449.8 537.2V560.7M453.2 540.6V565.1M456.7 550.2V576.5M460.1 531.8V554.9M463.5 532.9V556.7M466.9 526.2V549.7M470.3 526.0V549.5M473.7 525.7V549.1M477.1 509.3V528.3M480.6 525.8V552.0M484.0 515.3V538.2M487.4 517.9V539.9M490.8 533.0V559.3M494.2 523.5V545.7M497.6 541.6V567.9M501.1 527.8V551.1M504.5 529.9V549.8M507.9 551.4V574.9M511.3 555.8V579.3M514.7 575.3V601.2M518.1 581.9V608.1M521.5 567.5V591.0M525.0 566.7V589.9M528.4 564.9V587.5M531.8 595.8V619.2M535.2 663.1V686.6M538.6 721.3V747.6M542.0 718.3V744.6M545.5 697.8V721.3M548.9 627.1V650.6M552.3 580.1V603.5M555.7 558.8V582.3M559.1 550.0V573.5M562.5 550.0V573.5M565.9 520.6V544.0M569.4 519.0V542.5M572.8 519.0V542.5M576.2 514.2V536.3M579.6 527.8V554.1M583.0 518.6V542.1M586.4 518.6V542.1M589.8 518.6V542.1M593.3 518.6V542.1M596.7 529.0V552.5M600.1 546.6V570.0M603.5 568.0V591.5M606.9 590.8V614.3M610.3 599.8V624.8M613.8 595.6V617.6M617.2 616.9V640.4M620.6 619.7V643.2M624.0 651.0V674.4M627.4 683.2V709.5M630.8 670.9V696.6M634.2 664.2V686.3M637.7 664.1V686.2M641.1 669.0V692.4M644.5 670.6V694.0M647.9 692.8V719.1M651.3 688.3V714.6M654.7 648.6V672.1M658.1 635.5V659.0M661.6 613.2V636.7M665.0 590.0V613.5M668.4 572.7V596.2M671.8 572.7V596.2M675.2 570.2V593.7M678.6 545.5V562.7M682.0 550.2V573.6"/><path stroke-width="1.95" d="M97.6 610.1l3.9 -3.6l3.9 3.6l-3.9 3.6zM101.0 598.7l3.9 -3.6l3.9 3.6l-3.9 3.6zM104.4 607.2l3.9 -3.6l3.9 3.6l-3.9 3.6zM107.8 590.4l3.9 -3.6l3.9 3.6l-3.9 3.6zM111.3 605.0l3.9 -3.6l3.9 3.6l-3.9 3.6zM114.7 605.0l3.9 -3.6l3.9 3.6l-3.9 3.6zM118.1 601.0l3.9 -3.6l3.9 3.6l-3.9 3.6zM121.5 595.4l3.9 -3.6l3.9 3.6l-3.9 3.6zM124.9 581.0l3.9 -3.6l3.9 3.6l-3.9 3.6zM128.3 552.4l3.9 -3.6l3.9 3.6l-3.9 3.6zM131.8 586.2l3.9 -3.6l3.9 3.6l-3.9 3.6zM135.2 581.4l3.9 -3.6l3.9 3.6l-3.9 3.6zM138.6 571.5l3.9 -3.6l3.9 3.6l-3.9 3.6zM142.0 551.9l3.9 -3.6l3.9 3.6l-3.9 3.6zM145.4 565.0l3.9 -3.6l3.9 3.6l-3.9 3.6zM148.8 565.0l3.9 -3.6l3.9 3.6l-3.9 3.6zM152.2 564.5l3.9 -3.6l3.9 3.6l-3.9 3.6zM155.7 553.4l3.9 -3.6l3.9 3.6l-3.9 3.6zM159.1 564.9l3.9 -3.6l3.9 3.6l-3.9 3.6zM162.5 550.7l3.9 -3.6l3.9 3.6l-3.9 3.6zM165.9 556.6l3.9 -3.6l3.9 3.6l-3.9 3.6zM169.3 557.0l3.9 -3.6l3.9 3.6l-3.9 3.6zM172.7 557.0l3.9 -3.6l3.9 3.6l-3.9 3.6zM176.1 545.1l3.9 -3.6l3.9 3.6l-3.9 3.6zM179.6 553.2l3.9 -3.6l3.9 3.6l-3.9 3.6zM183.0 553.5l3.9 -3.6l3.9 3.6l-3.9 3.6zM186.4 560.9l3.9 -3.6l3.9 3.6l-3.9 3.6zM189.8 532.0l3.9 -3.6l3.9 3.6l-3.9 3.6zM193.2 562.0l3.9 -3.6l3.9 3.6l-3.9 3.6zM196.6 562.0l3.9 -3.6l3.9 3.6l-3.9 3.6zM200.0 562.0l3.9 -3.6l3.9 3.6l-3.9 3.6zM203.5 548.8l3.9 -3.6l3.9 3.6l-3.9 3.6zM206.9 536.8l3.9 -3.6l3.9 3.6l-3.9 3.6zM210.3 544.7l3.9 -3.6l3.9 3.6l-3.9 3.6zM213.7 556.0l3.9 -3.6l3.9 3.6l-3.9 3.6zM217.1 555.9l3.9 -3.6l3.9 3.6l-3.9 3.6zM220.5 546.5l3.9 -3.6l3.9 3.6l-3.9 3.6zM224.0 555.5l3.9 -3.6l3.9 3.6l-3.9 3.6zM227.4 542.7l3.9 -3.6l3.9 3.6l-3.9 3.6zM230.8 551.2l3.9 -3.6l3.9 3.6l-3.9 3.6zM234.2 538.0l3.9 -3.6l3.9 3.6l-3.9 3.6zM237.6 538.0l3.9 -3.6l3.9 3.6l-3.9 3.6zM241.0 527.6l3.9 -3.6l3.9 3.6l-3.9 3.6zM244.4 538.0l3.9 -3.6l3.9 3.6l-3.9 3.6zM247.9 547.3l3.9 -3.6l3.9 3.6l-3.9 3.6zM251.3 548.6l3.9 -3.6l3.9 3.6l-3.9 3.6zM254.7 548.6l3.9 -3.6l3.9 3.6l-3.9 3.6zM258.1 548.6l3.9 -3.6l3.9 3.6l-3.9 3.6zM261.5 543.4l3.9 -3.6l3.9 3.6l-3.9 3.6zM264.9 510.2l3.9 -3.6l3.9 3.6l-3.9 3.6zM268.4 544.0l3.9 -3.6l3.9 3.6l-3.9 3.6zM271.8 544.0l3.9 -3.6l3.9 3.6l-3.9 3.6zM275.2 544.0l3.9 -3.6l3.9 3.6l-3.9 3.6zM278.6 540.0l3.9 -3.6l3.9 3.6l-3.9 3.6zM282.0 544.0l3.9 -3.6l3.9 3.6l-3.9 3.6zM285.4 540.0l3.9 -3.6l3.9 3.6l-3.9 3.6zM288.8 544.0l3.9 -3.6l3.9 3.6l-3.9 3.6zM292.3 555.0l3.9 -3.6l3.9 3.6l-3.9 3.6zM295.7 551.9l3.9 -3.6l3.9 3.6l-3.9 3.6zM299.1 539.1l3.9 -3.6l3.9 3.6l-3.9 3.6zM302.5 523.5l3.9 -3.6l3.9 3.6l-3.9 3.6zM305.9 512.9l3.9 -3.6l3.9 3.6l-3.9 3.6zM309.3 512.2l3.9 -3.6l3.9 3.6l-3.9 3.6zM312.7 528.4l3.9 -3.6l3.9 3.6l-3.9 3.6zM316.2 540.0l3.9 -3.6l3.9 3.6l-3.9 3.6zM319.6 540.0l3.9 -3.6l3.9 3.6l-3.9 3.6zM323.0 528.1l3.9 -3.6l3.9 3.6l-3.9 3.6zM326.4 540.0l3.9 -3.6l3.9 3.6l-3.9 3.6zM329.8 537.3l3.9 -3.6l3.9 3.6l-3.9 3.6zM333.2 510.3l3.9 -3.6l3.9 3.6l-3.9 3.6zM336.7 519.7l3.9 -3.6l3.9 3.6l-3.9 3.6zM340.1 537.9l3.9 -3.6l3.9 3.6l-3.9 3.6zM343.5 532.9l3.9 -3.6l3.9 3.6l-3.9 3.6zM346.9 525.4l3.9 -3.6l3.9 3.6l-3.9 3.6zM350.3 533.9l3.9 -3.6l3.9 3.6l-3.9 3.6zM353.7 514.5l3.9 -3.6l3.9 3.6l-3.9 3.6zM357.1 525.0l3.9 -3.6l3.9 3.6l-3.9 3.6zM360.6 525.0l3.9 -3.6l3.9 3.6l-3.9 3.6zM364.0 540.5l3.9 -3.6l3.9 3.6l-3.9 3.6zM367.4 542.2l3.9 -3.6l3.9 3.6l-3.9 3.6zM370.8 532.7l3.9 -3.6l3.9 3.6l-3.9 3.6zM374.2 542.2l3.9 -3.6l3.9 3.6l-3.9 3.6zM377.6 543.0l3.9 -3.6l3.9 3.6l-3.9 3.6zM381.0 554.8l3.9 -3.6l3.9 3.6l-3.9 3.6zM384.5 567.8l3.9 -3.6l3.9 3.6l-3.9 3.6zM387.9 594.3l3.9 -3.6l3.9 3.6l-3.9 3.6zM391.3 588.8l3.9 -3.6l3.9 3.6l-3.9 3.6zM394.7 555.0l3.9 -3.6l3.9 3.6l-3.9 3.6zM398.1 554.9l3.9 -3.6l3.9 3.6l-3.9 3.6zM401.5 545.2l3.9 -3.6l3.9 3.6l-3.9 3.6zM405.0 532.4l3.9 -3.6l3.9 3.6l-3.9 3.6zM408.4 527.5l3.9 -3.6l3.9 3.6l-3.9 3.6zM411.8 527.5l3.9 -3.6l3.9 3.6l-3.9 3.6zM415.2 499.3l3.9 -3.6l3.9 3.6l-3.9 3.6zM418.6 535.0l3.9 -3.6l3.9 3.6l-3.9 3.6zM422.0 515.2l3.9 -3.6l3.9 3.6l-3.9 3.6zM425.4 524.6l3.9 -3.6l3.9 3.6l-3.9 3.6zM428.9 515.2l3.9 -3.6l3.9 3.6l-3.9 3.6zM432.3 535.0l3.9 -3.6l3.9 3.6l-3.9 3.6zM435.7 535.4l3.9 -3.6l3.9 3.6l-3.9 3.6zM439.1 546.0l3.9 -3.6l3.9 3.6l-3.9 3.6zM442.5 546.0l3.9 -3.6l3.9 3.6l-3.9 3.6zM445.9 548.2l3.9 -3.6l3.9 3.6l-3.9 3.6zM449.3 552.0l3.9 -3.6l3.9 3.6l-3.9 3.6zM452.8 562.4l3.9 -3.6l3.9 3.6l-3.9 3.6zM456.2 542.6l3.9 -3.6l3.9 3.6l-3.9 3.6zM459.6 544.0l3.9 -3.6l3.9 3.6l-3.9 3.6zM463.0 537.2l3.9 -3.6l3.9 3.6l-3.9 3.6zM466.4 537.0l3.9 -3.6l3.9 3.6l-3.9 3.6zM469.8 536.7l3.9 -3.6l3.9 3.6l-3.9 3.6zM473.2 518.3l3.9 -3.6l3.9 3.6l-3.9 3.6zM476.7 537.9l3.9 -3.6l3.9 3.6l-3.9 3.6zM480.1 526.0l3.9 -3.6l3.9 3.6l-3.9 3.6zM483.5 528.2l3.9 -3.6l3.9 3.6l-3.9 3.6zM486.9 545.2l3.9 -3.6l3.9 3.6l-3.9 3.6zM490.3 533.9l3.9 -3.6l3.9 3.6l-3.9 3.6zM493.7 553.8l3.9 -3.6l3.9 3.6l-3.9 3.6zM497.2 538.7l3.9 -3.6l3.9 3.6l-3.9 3.6zM500.6 539.3l3.9 -3.6l3.9 3.6l-3.9 3.6zM504.0 562.4l3.9 -3.6l3.9 3.6l-3.9 3.6zM507.4 566.7l3.9 -3.6l3.9 3.6l-3.9 3.6zM510.8 587.3l3.9 -3.6l3.9 3.6l-3.9 3.6zM514.2 594.0l3.9 -3.6l3.9 3.6l-3.9 3.6zM517.6 578.5l3.9 -3.6l3.9 3.6l-3.9 3.6zM521.1 577.6l3.9 -3.6l3.9 3.6l-3.9 3.6zM524.5 575.5l3.9 -3.6l3.9 3.6l-3.9 3.6zM527.9 606.7l3.9 -3.6l3.9 3.6l-3.9 3.6zM531.3 674.1l3.9 -3.6l3.9 3.6l-3.9 3.6zM534.7 733.5l3.9 -3.6l3.9 3.6l-3.9 3.6zM538.1 730.5l3.9 -3.6l3.9 3.6l-3.9 3.6zM541.6 708.8l3.9 -3.6l3.9 3.6l-3.9 3.6zM545.0 638.1l3.9 -3.6l3.9 3.6l-3.9 3.6zM548.4 591.0l3.9 -3.6l3.9 3.6l-3.9 3.6zM551.8 569.8l3.9 -3.6l3.9 3.6l-3.9 3.6zM555.2 561.0l3.9 -3.6l3.9 3.6l-3.9 3.6zM558.6 561.0l3.9 -3.6l3.9 3.6l-3.9 3.6zM562.0 531.5l3.9 -3.6l3.9 3.6l-3.9 3.6zM565.5 530.0l3.9 -3.6l3.9 3.6l-3.9 3.6zM568.9 530.0l3.9 -3.6l3.9 3.6l-3.9 3.6zM572.3 524.6l3.9 -3.6l3.9 3.6l-3.9 3.6zM575.7 540.0l3.9 -3.6l3.9 3.6l-3.9 3.6zM579.1 529.6l3.9 -3.6l3.9 3.6l-3.9 3.6zM582.5 529.6l3.9 -3.6l3.9 3.6l-3.9 3.6zM585.9 529.6l3.9 -3.6l3.9 3.6l-3.9 3.6zM589.4 529.6l3.9 -3.6l3.9 3.6l-3.9 3.6zM592.8 540.0l3.9 -3.6l3.9 3.6l-3.9 3.6zM596.2 557.5l3.9 -3.6l3.9 3.6l-3.9 3.6zM599.6 579.0l3.9 -3.6l3.9 3.6l-3.9 3.6zM603.0 601.8l3.9 -3.6l3.9 3.6l-3.9 3.6zM606.4 611.4l3.9 -3.6l3.9 3.6l-3.9 3.6zM609.9 605.9l3.9 -3.6l3.9 3.6l-3.9 3.6zM613.3 627.9l3.9 -3.6l3.9 3.6l-3.9 3.6zM616.7 630.6l3.9 -3.6l3.9 3.6l-3.9 3.6zM620.1 661.9l3.9 -3.6l3.9 3.6l-3.9 3.6zM623.5 695.4l3.9 -3.6l3.9 3.6l-3.9 3.6zM626.9 682.8l3.9 -3.6l3.9 3.6l-3.9 3.6zM630.3 674.6l3.9 -3.6l3.9 3.6l-3.9 3.6zM633.8 674.5l3.9 -3.6l3.9 3.6l-3.9 3.6zM637.2 679.9l3.9 -3.6l3.9 3.6l-3.9 3.6zM640.6 681.5l3.9 -3.6l3.9 3.6l-3.9 3.6zM644.0 705.0l3.9 -3.6l3.9 3.6l-3.9 3.6zM647.4 700.5l3.9 -3.6l3.9 3.6l-3.9 3.6zM650.8 659.6l3.9 -3.6l3.9 3.6l-3.9 3.6zM654.2 646.5l3.9 -3.6l3.9 3.6l-3.9 3.6zM657.7 624.2l3.9 -3.6l3.9 3.6l-3.9 3.6zM661.1 601.0l3.9 -3.6l3.9 3.6l-3.9 3.6zM664.5 583.7l3.9 -3.6l3.9 3.6l-3.9 3.6zM667.9 583.7l3.9 -3.6l3.9 3.6l-3.9 3.6zM671.3 581.2l3.9 -3.6l3.9 3.6l-3.9 3.6zM674.7 553.7l3.9 -3.6l3.9 3.6l-3.9 3.6zM678.1 561.1l3.9 -3.6l3.9 3.6l-3.9 3.6z"/></g><g stroke="#60cc40" fill="none"><path stroke-width="1.9" d="M101.5 551.0V577.2M104.9 542.0V563.9M108.3 536.6V557.0M111.7 549.4V573.5M115.2 563.1V587.2M118.6 565.1V589.2M122.0 566.8V591.5M125.4 567.1V591.2M128.8 555.7V576.5M132.2 567.4V591.5M135.7 569.6V593.7M139.1 571.9V596.0M142.5 574.9V599.0M145.9 580.0V605.8M149.3 580.8V604.9M152.7 572.9V594.7M156.1 583.4V608.3M159.6 583.8V607.9M163.0 557.1V574.3M166.4 584.6V610.1M169.8 580.1V604.2M173.2 580.4V603.1M176.6 590.8V617.1M180.0 604.5V630.8M183.5 570.7V592.1M186.9 579.9V604.0M190.3 567.2V587.7M193.7 594.6V620.8M197.1 587.3V611.4M200.5 587.3V611.4M203.9 597.9V624.2M207.4 582.0V601.4M210.8 604.9V631.0M214.2 605.8V629.9M217.6 596.7V618.2M221.0 608.3V633.2M224.4 588.8V610.0M227.9 608.9V635.2M231.3 598.5V622.6M234.7 584.7V603.3M238.1 605.2V631.5M241.5 604.9V629.0M244.9 595.8V616.9M248.3 616.8V640.9M251.8 616.8V640.9M255.2 616.8V640.9M258.6 616.6V640.7M262.0 609.6V633.7M265.4 599.6V622.3M268.8 595.6V617.1M272.2 604.4V628.5M275.7 614.4V638.6M279.1 622.8V649.1M282.5 623.4V648.3M285.9 603.0V622.2M289.3 620.8V644.9M292.7 591.4V610.4M296.2 620.8V644.9M299.6 611.2V633.2M303.0 620.5V645.2M306.4 618.1V642.9M309.8 601.6V621.6M313.2 615.9V640.0M316.6 611.0V633.6M320.1 618.8V642.9M323.5 618.8V642.9M326.9 618.8V642.9M330.3 618.8V642.9M333.7 599.8V618.7M337.1 630.0V656.3M340.6 617.3V641.4M344.0 617.3V641.4M347.4 588.9V605.7M350.8 617.3V641.4M354.2 603.5V623.7M357.6 627.1V653.4M361.0 617.6V643.9M364.5 601.4V621.4M367.9 604.8V628.9M371.3 614.9V641.1M374.7 604.8V628.9M378.1 604.8V628.9M381.5 594.3V615.3M384.9 599.8V623.9M388.4 619.3V645.6M391.8 601.6V621.5M395.2 618.5V643.2M398.6 616.0V641.7M402.0 595.7V615.6M405.4 610.9V635.0M408.9 605.9V630.0M412.3 611.7V636.0M415.7 588.9V606.9M419.1 625.3V649.4M422.5 636.3V660.6M425.9 673.0V699.3M429.3 635.6V659.7M432.8 609.4V632.2M436.2 606.2V628.8M439.6 613.2V638.7M443.0 610.4V636.1M446.4 601.6V625.7M449.8 593.4V615.1M453.2 594.1V616.0M456.7 602.8V629.0M460.1 611.0V637.3M463.5 595.1V616.4M466.9 604.5V628.6M470.3 615.1V641.3M473.7 604.3V625.0M477.1 620.2V645.6M480.6 620.6V645.0M484.0 613.1V635.2M487.4 619.6V644.1M490.8 617.7V643.6M494.2 604.8V628.9M497.6 602.8V626.3M501.1 596.1V618.2M504.5 609.5V635.7M507.9 598.5V620.7M511.3 611.7V636.3M514.7 604.8V628.9M518.1 610.7V636.7M521.5 603.8V627.9M525.0 601.0V624.3M528.4 588.6V609.2M531.8 610.8V637.0M535.2 596.6V617.9M538.6 606.7V629.3M542.0 618.9V643.0M545.5 626.8V653.1M548.9 622.4V647.7M552.3 611.7V632.5M555.7 617.4V641.5M559.1 627.9V654.1M562.5 604.0V627.6M565.9 604.0V627.6M569.4 605.4V629.5M572.8 622.1V646.2M576.2 647.9V674.1M579.6 634.6V654.7M583.0 650.4V675.0M586.4 656.2V682.4M589.8 633.0V652.7M593.3 648.1V674.4M596.7 638.7V665.0M600.1 621.0V645.1M603.5 617.4V641.2M606.9 617.4V641.2M610.3 618.6V642.7M613.8 626.8V653.1M617.2 626.8V653.1M620.6 605.7V627.4M624.0 614.1V638.2M627.4 610.3V633.3M630.8 615.9V640.6M634.2 616.2V640.3M637.7 588.8V605.8M641.1 615.2V641.5M644.5 589.4V609.1M647.9 604.9V628.7M651.3 605.9V630.0M654.7 615.5V640.2M658.1 615.5V640.2M661.6 613.5V637.6M665.0 604.0V627.5M668.4 604.0V627.5M671.8 605.9V630.7M675.2 612.6V638.8M678.6 591.9V610.8M682.0 610.8V634.9"/><path stroke-width="1.95" d="M97.6 563.1l3.9 -3.6l3.9 3.6l-3.9 3.6zM101.0 552.3l3.9 -3.6l3.9 3.6l-3.9 3.6zM104.4 546.2l3.9 -3.6l3.9 3.6l-3.9 3.6zM107.8 560.6l3.9 -3.6l3.9 3.6l-3.9 3.6zM111.3 574.4l3.9 -3.6l3.9 3.6l-3.9 3.6zM114.7 576.3l3.9 -3.6l3.9 3.6l-3.9 3.6zM118.1 578.3l3.9 -3.6l3.9 3.6l-3.9 3.6zM121.5 578.4l3.9 -3.6l3.9 3.6l-3.9 3.6zM124.9 565.5l3.9 -3.6l3.9 3.6l-3.9 3.6zM128.3 578.7l3.9 -3.6l3.9 3.6l-3.9 3.6zM131.8 580.9l3.9 -3.6l3.9 3.6l-3.9 3.6zM135.2 583.1l3.9 -3.6l3.9 3.6l-3.9 3.6zM138.6 586.1l3.9 -3.6l3.9 3.6l-3.9 3.6zM142.0 592.0l3.9 -3.6l3.9 3.6l-3.9 3.6zM145.4 592.0l3.9 -3.6l3.9 3.6l-3.9 3.6zM148.8 583.2l3.9 -3.6l3.9 3.6l-3.9 3.6zM152.2 595.0l3.9 -3.6l3.9 3.6l-3.9 3.6zM155.7 595.0l3.9 -3.6l3.9 3.6l-3.9 3.6zM159.1 565.3l3.9 -3.6l3.9 3.6l-3.9 3.6zM162.5 596.4l3.9 -3.6l3.9 3.6l-3.9 3.6zM165.9 591.3l3.9 -3.6l3.9 3.6l-3.9 3.6zM169.3 591.0l3.9 -3.6l3.9 3.6l-3.9 3.6zM172.7 603.0l3.9 -3.6l3.9 3.6l-3.9 3.6zM176.1 616.7l3.9 -3.6l3.9 3.6l-3.9 3.6zM179.6 580.7l3.9 -3.6l3.9 3.6l-3.9 3.6zM183.0 591.2l3.9 -3.6l3.9 3.6l-3.9 3.6zM186.4 576.9l3.9 -3.6l3.9 3.6l-3.9 3.6zM189.8 606.7l3.9 -3.6l3.9 3.6l-3.9 3.6zM193.2 598.5l3.9 -3.6l3.9 3.6l-3.9 3.6zM196.6 598.5l3.9 -3.6l3.9 3.6l-3.9 3.6zM200.0 610.1l3.9 -3.6l3.9 3.6l-3.9 3.6zM203.5 591.2l3.9 -3.6l3.9 3.6l-3.9 3.6zM206.9 617.0l3.9 -3.6l3.9 3.6l-3.9 3.6zM210.3 617.0l3.9 -3.6l3.9 3.6l-3.9 3.6zM213.7 606.8l3.9 -3.6l3.9 3.6l-3.9 3.6zM217.1 619.8l3.9 -3.6l3.9 3.6l-3.9 3.6zM220.5 598.8l3.9 -3.6l3.9 3.6l-3.9 3.6zM224.0 621.1l3.9 -3.6l3.9 3.6l-3.9 3.6zM227.4 609.7l3.9 -3.6l3.9 3.6l-3.9 3.6zM230.8 593.5l3.9 -3.6l3.9 3.6l-3.9 3.6zM234.2 617.4l3.9 -3.6l3.9 3.6l-3.9 3.6zM237.6 616.2l3.9 -3.6l3.9 3.6l-3.9 3.6zM241.0 605.7l3.9 -3.6l3.9 3.6l-3.9 3.6zM244.4 628.0l3.9 -3.6l3.9 3.6l-3.9 3.6zM247.9 628.0l3.9 -3.6l3.9 3.6l-3.9 3.6zM251.3 628.0l3.9 -3.6l3.9 3.6l-3.9 3.6zM254.7 627.8l3.9 -3.6l3.9 3.6l-3.9 3.6zM258.1 620.8l3.9 -3.6l3.9 3.6l-3.9 3.6zM261.5 610.2l3.9 -3.6l3.9 3.6l-3.9 3.6zM264.9 605.7l3.9 -3.6l3.9 3.6l-3.9 3.6zM268.4 615.6l3.9 -3.6l3.9 3.6l-3.9 3.6zM271.8 625.7l3.9 -3.6l3.9 3.6l-3.9 3.6zM275.2 635.0l3.9 -3.6l3.9 3.6l-3.9 3.6zM278.6 635.0l3.9 -3.6l3.9 3.6l-3.9 3.6zM282.0 612.1l3.9 -3.6l3.9 3.6l-3.9 3.6zM285.4 632.0l3.9 -3.6l3.9 3.6l-3.9 3.6zM288.8 600.4l3.9 -3.6l3.9 3.6l-3.9 3.6zM292.3 632.0l3.9 -3.6l3.9 3.6l-3.9 3.6zM295.7 621.5l3.9 -3.6l3.9 3.6l-3.9 3.6zM299.1 632.0l3.9 -3.6l3.9 3.6l-3.9 3.6zM302.5 629.6l3.9 -3.6l3.9 3.6l-3.9 3.6zM305.9 611.1l3.9 -3.6l3.9 3.6l-3.9 3.6zM309.3 627.2l3.9 -3.6l3.9 3.6l-3.9 3.6zM312.7 621.6l3.9 -3.6l3.9 3.6l-3.9 3.6zM316.2 630.0l3.9 -3.6l3.9 3.6l-3.9 3.6zM319.6 630.0l3.9 -3.6l3.9 3.6l-3.9 3.6zM323.0 630.0l3.9 -3.6l3.9 3.6l-3.9 3.6zM326.4 630.0l3.9 -3.6l3.9 3.6l-3.9 3.6zM329.8 608.8l3.9 -3.6l3.9 3.6l-3.9 3.6zM333.2 642.2l3.9 -3.6l3.9 3.6l-3.9 3.6zM336.7 628.5l3.9 -3.6l3.9 3.6l-3.9 3.6zM340.1 628.5l3.9 -3.6l3.9 3.6l-3.9 3.6zM343.5 596.9l3.9 -3.6l3.9 3.6l-3.9 3.6zM346.9 628.5l3.9 -3.6l3.9 3.6l-3.9 3.6zM350.3 613.0l3.9 -3.6l3.9 3.6l-3.9 3.6zM353.7 639.3l3.9 -3.6l3.9 3.6l-3.9 3.6zM357.1 629.8l3.9 -3.6l3.9 3.6l-3.9 3.6zM360.6 610.8l3.9 -3.6l3.9 3.6l-3.9 3.6zM364.0 616.0l3.9 -3.6l3.9 3.6l-3.9 3.6zM367.4 627.0l3.9 -3.6l3.9 3.6l-3.9 3.6zM370.8 616.0l3.9 -3.6l3.9 3.6l-3.9 3.6zM374.2 616.0l3.9 -3.6l3.9 3.6l-3.9 3.6zM377.6 604.2l3.9 -3.6l3.9 3.6l-3.9 3.6zM381.0 611.0l3.9 -3.6l3.9 3.6l-3.9 3.6zM384.5 631.5l3.9 -3.6l3.9 3.6l-3.9 3.6zM387.9 611.0l3.9 -3.6l3.9 3.6l-3.9 3.6zM391.3 630.0l3.9 -3.6l3.9 3.6l-3.9 3.6zM394.7 627.9l3.9 -3.6l3.9 3.6l-3.9 3.6zM398.1 605.1l3.9 -3.6l3.9 3.6l-3.9 3.6zM401.5 622.2l3.9 -3.6l3.9 3.6l-3.9 3.6zM405.0 617.1l3.9 -3.6l3.9 3.6l-3.9 3.6zM408.4 623.0l3.9 -3.6l3.9 3.6l-3.9 3.6zM411.8 597.4l3.9 -3.6l3.9 3.6l-3.9 3.6zM415.2 636.5l3.9 -3.6l3.9 3.6l-3.9 3.6zM418.6 647.6l3.9 -3.6l3.9 3.6l-3.9 3.6zM422.0 685.2l3.9 -3.6l3.9 3.6l-3.9 3.6zM425.4 646.9l3.9 -3.6l3.9 3.6l-3.9 3.6zM428.9 620.1l3.9 -3.6l3.9 3.6l-3.9 3.6zM432.3 616.8l3.9 -3.6l3.9 3.6l-3.9 3.6zM435.7 625.0l3.9 -3.6l3.9 3.6l-3.9 3.6zM439.1 622.3l3.9 -3.6l3.9 3.6l-3.9 3.6zM442.5 612.9l3.9 -3.6l3.9 3.6l-3.9 3.6zM445.9 603.6l3.9 -3.6l3.9 3.6l-3.9 3.6zM449.3 604.4l3.9 -3.6l3.9 3.6l-3.9 3.6zM452.8 614.9l3.9 -3.6l3.9 3.6l-3.9 3.6zM456.2 623.2l3.9 -3.6l3.9 3.6l-3.9 3.6zM459.6 605.1l3.9 -3.6l3.9 3.6l-3.9 3.6zM463.0 615.7l3.9 -3.6l3.9 3.6l-3.9 3.6zM466.4 627.2l3.9 -3.6l3.9 3.6l-3.9 3.6zM469.8 614.0l3.9 -3.6l3.9 3.6l-3.9 3.6zM473.2 632.0l3.9 -3.6l3.9 3.6l-3.9 3.6zM476.7 632.0l3.9 -3.6l3.9 3.6l-3.9 3.6zM480.1 623.5l3.9 -3.6l3.9 3.6l-3.9 3.6zM483.5 631.0l3.9 -3.6l3.9 3.6l-3.9 3.6zM486.9 629.7l3.9 -3.6l3.9 3.6l-3.9 3.6zM490.3 616.0l3.9 -3.6l3.9 3.6l-3.9 3.6zM493.7 613.8l3.9 -3.6l3.9 3.6l-3.9 3.6zM497.2 606.5l3.9 -3.6l3.9 3.6l-3.9 3.6zM500.6 621.6l3.9 -3.6l3.9 3.6l-3.9 3.6zM504.0 608.9l3.9 -3.6l3.9 3.6l-3.9 3.6zM507.4 623.2l3.9 -3.6l3.9 3.6l-3.9 3.6zM510.8 616.1l3.9 -3.6l3.9 3.6l-3.9 3.6zM514.2 622.7l3.9 -3.6l3.9 3.6l-3.9 3.6zM517.6 615.0l3.9 -3.6l3.9 3.6l-3.9 3.6zM521.1 611.9l3.9 -3.6l3.9 3.6l-3.9 3.6zM524.5 598.3l3.9 -3.6l3.9 3.6l-3.9 3.6zM527.9 622.9l3.9 -3.6l3.9 3.6l-3.9 3.6zM531.3 606.6l3.9 -3.6l3.9 3.6l-3.9 3.6zM534.7 617.3l3.9 -3.6l3.9 3.6l-3.9 3.6zM538.1 630.1l3.9 -3.6l3.9 3.6l-3.9 3.6zM541.6 639.0l3.9 -3.6l3.9 3.6l-3.9 3.6zM545.0 634.2l3.9 -3.6l3.9 3.6l-3.9 3.6zM548.4 621.5l3.9 -3.6l3.9 3.6l-3.9 3.6zM551.8 628.6l3.9 -3.6l3.9 3.6l-3.9 3.6zM555.2 640.0l3.9 -3.6l3.9 3.6l-3.9 3.6zM558.6 615.0l3.9 -3.6l3.9 3.6l-3.9 3.6zM562.0 615.0l3.9 -3.6l3.9 3.6l-3.9 3.6zM565.5 616.6l3.9 -3.6l3.9 3.6l-3.9 3.6zM568.9 633.3l3.9 -3.6l3.9 3.6l-3.9 3.6zM572.3 660.0l3.9 -3.6l3.9 3.6l-3.9 3.6zM575.7 644.1l3.9 -3.6l3.9 3.6l-3.9 3.6zM579.1 661.8l3.9 -3.6l3.9 3.6l-3.9 3.6zM582.5 668.3l3.9 -3.6l3.9 3.6l-3.9 3.6zM585.9 642.3l3.9 -3.6l3.9 3.6l-3.9 3.6zM589.4 660.3l3.9 -3.6l3.9 3.6l-3.9 3.6zM592.8 650.9l3.9 -3.6l3.9 3.6l-3.9 3.6zM596.2 632.3l3.9 -3.6l3.9 3.6l-3.9 3.6zM599.6 628.5l3.9 -3.6l3.9 3.6l-3.9 3.6zM603.0 628.5l3.9 -3.6l3.9 3.6l-3.9 3.6zM606.4 629.9l3.9 -3.6l3.9 3.6l-3.9 3.6zM609.9 639.0l3.9 -3.6l3.9 3.6l-3.9 3.6zM613.3 639.0l3.9 -3.6l3.9 3.6l-3.9 3.6zM616.7 615.9l3.9 -3.6l3.9 3.6l-3.9 3.6zM620.1 625.3l3.9 -3.6l3.9 3.6l-3.9 3.6zM623.5 621.1l3.9 -3.6l3.9 3.6l-3.9 3.6zM626.9 627.4l3.9 -3.6l3.9 3.6l-3.9 3.6zM630.3 627.4l3.9 -3.6l3.9 3.6l-3.9 3.6zM633.8 596.9l3.9 -3.6l3.9 3.6l-3.9 3.6zM637.2 627.4l3.9 -3.6l3.9 3.6l-3.9 3.6zM640.6 598.7l3.9 -3.6l3.9 3.6l-3.9 3.6zM644.0 616.0l3.9 -3.6l3.9 3.6l-3.9 3.6zM647.4 617.2l3.9 -3.6l3.9 3.6l-3.9 3.6zM650.8 627.0l3.9 -3.6l3.9 3.6l-3.9 3.6zM654.2 627.0l3.9 -3.6l3.9 3.6l-3.9 3.6zM657.7 624.8l3.9 -3.6l3.9 3.6l-3.9 3.6zM661.1 615.0l3.9 -3.6l3.9 3.6l-3.9 3.6zM664.5 615.0l3.9 -3.6l3.9 3.6l-3.9 3.6zM667.9 617.4l3.9 -3.6l3.9 3.6l-3.9 3.6zM671.3 624.7l3.9 -3.6l3.9 3.6l-3.9 3.6zM674.7 600.9l3.9 -3.6l3.9 3.6l-3.9 3.6zM678.1 622.0l3.9 -3.6l3.9 3.6l-3.9 3.6z"/></g></g>
<path d="M109.07 804.6v-7.4M109.07 0.3v8.4M118.05 804.6v-7.4M118.05 0.3v8.4M127.02 804.6v-7.4M127.02 0.3v8.4M136.00 804.6v-7.4M136.00 0.3v8.4M144.97 804.6v-7.4M144.97 0.3v8.4M153.95 804.6v-7.4M153.95 0.3v8.4M162.92 804.6v-7.4M162.92 0.3v8.4M171.90 804.6v-7.4M171.90 0.3v8.4M180.87 804.6v-7.4M180.87 0.3v8.4M189.85 804.6v-15.8M189.85 0.3v16.4M198.82 804.6v-7.4M198.82 0.3v8.4M207.80 804.6v-7.4M207.80 0.3v8.4M216.77 804.6v-7.4M216.77 0.3v8.4M225.75 804.6v-7.4M225.75 0.3v8.4M234.73 804.6v-7.4M234.73 0.3v8.4M243.70 804.6v-7.4M243.70 0.3v8.4M252.67 804.6v-7.4M252.67 0.3v8.4M261.65 804.6v-7.4M261.65 0.3v8.4M270.62 804.6v-7.4M270.62 0.3v8.4M279.60 804.6v-15.8M279.60 0.3v16.4M288.57 804.6v-7.4M288.57 0.3v8.4M297.55 804.6v-7.4M297.55 0.3v8.4M306.52 804.6v-7.4M306.52 0.3v8.4M315.50 804.6v-7.4M315.50 0.3v8.4M324.48 804.6v-7.4M324.48 0.3v8.4M333.45 804.6v-7.4M333.45 0.3v8.4M342.43 804.6v-7.4M342.43 0.3v8.4M351.40 804.6v-7.4M351.40 0.3v8.4M360.37 804.6v-7.4M360.37 0.3v8.4M369.35 804.6v-15.8M369.35 0.3v16.4M378.32 804.6v-7.4M378.32 0.3v8.4M387.30 804.6v-7.4M387.30 0.3v8.4M396.27 804.6v-7.4M396.27 0.3v8.4M405.25 804.6v-7.4M405.25 0.3v8.4M414.23 804.6v-7.4M414.23 0.3v8.4M423.20 804.6v-7.4M423.20 0.3v8.4M432.17 804.6v-7.4M432.17 0.3v8.4M441.15 804.6v-7.4M441.15 0.3v8.4M450.12 804.6v-7.4M450.12 0.3v8.4M459.10 804.6v-15.8M459.10 0.3v16.4M468.08 804.6v-7.4M468.08 0.3v8.4M477.05 804.6v-7.4M477.05 0.3v8.4M486.02 804.6v-7.4M486.02 0.3v8.4M495.00 804.6v-7.4M495.00 0.3v8.4M503.97 804.6v-7.4M503.97 0.3v8.4M512.95 804.6v-7.4M512.95 0.3v8.4M521.92 804.6v-7.4M521.92 0.3v8.4M530.90 804.6v-7.4M530.90 0.3v8.4M539.88 804.6v-7.4M539.88 0.3v8.4M548.85 804.6v-15.8M548.85 0.3v16.4M557.83 804.6v-7.4M557.83 0.3v8.4M566.80 804.6v-7.4M566.80 0.3v8.4M575.77 804.6v-7.4M575.77 0.3v8.4M584.75 804.6v-7.4M584.75 0.3v8.4M593.72 804.6v-7.4M593.72 0.3v8.4M602.70 804.6v-7.4M602.70 0.3v8.4M611.67 804.6v-7.4M611.67 0.3v8.4M620.65 804.6v-7.4M620.65 0.3v8.4M629.62 804.6v-7.4M629.62 0.3v8.4M638.60 804.6v-15.8M638.60 0.3v16.4M647.58 804.6v-7.4M647.58 0.3v8.4M656.55 804.6v-7.4M656.55 0.3v8.4M665.52 804.6v-7.4M665.52 0.3v8.4M674.50 804.6v-7.4M674.50 0.3v8.4M100.1 779.13h5.5M683.1 779.13h-5.5M100.1 743.17h5.5M683.1 743.17h-5.5M100.1 717.66h5.5M683.1 717.66h-5.5M100.1 697.87h5.5M683.1 697.87h-5.5M100.1 681.70h5.5M683.1 681.70h-5.5M100.1 668.03h5.5M683.1 668.03h-5.5M100.1 656.19h5.5M683.1 656.19h-5.5M100.1 645.74h5.5M683.1 645.74h-5.5M100.1 636.40h11M683.1 636.40h-11M100.1 574.93h5.5M683.1 574.93h-5.5M100.1 538.97h5.5M683.1 538.97h-5.5M100.1 513.46h5.5M683.1 513.46h-5.5M100.1 493.67h5.5M683.1 493.67h-5.5M100.1 477.50h5.5M683.1 477.50h-5.5M100.1 463.83h5.5M683.1 463.83h-5.5M100.1 451.99h5.5M683.1 451.99h-5.5M100.1 441.54h5.5M683.1 441.54h-5.5M100.1 432.20h11M683.1 432.20h-11M100.1 370.73h5.5M683.1 370.73h-5.5M100.1 334.77h5.5M683.1 334.77h-5.5M100.1 309.26h5.5M683.1 309.26h-5.5M100.1 289.47h5.5M683.1 289.47h-5.5M100.1 273.30h5.5M683.1 273.30h-5.5M100.1 259.63h5.5M683.1 259.63h-5.5M100.1 247.79h5.5M683.1 247.79h-5.5M100.1 237.34h5.5M683.1 237.34h-5.5M100.1 228.00h11M683.1 228.00h-11M100.1 166.53h5.5M683.1 166.53h-5.5M100.1 130.57h5.5M683.1 130.57h-5.5M100.1 105.06h5.5M683.1 105.06h-5.5M100.1 85.27h5.5M683.1 85.27h-5.5M100.1 69.10h5.5M683.1 69.10h-5.5M100.1 55.43h5.5M683.1 55.43h-5.5M100.1 43.59h5.5M683.1 43.59h-5.5M100.1 33.14h5.5M683.1 33.14h-5.5M100.1 23.80h11M683.1 23.80h-11" stroke="#1a1a1a" stroke-width="1.9" fill="none"/>
<rect x="100.1" y="0.3" width="583.0" height="804.3000000000001" fill="none" stroke="#1a1a1a" stroke-width="2.1"/>
<text x="100.1" y="838.7" font-size="27" text-anchor="middle" fill="#1a1a1a" font-family="Liberation Sans, Arial, Helvetica, sans-serif" font-weight="bold">0.4</text>
<text x="189.8" y="838.7" font-size="27" text-anchor="middle" fill="#1a1a1a" font-family="Liberation Sans, Arial, Helvetica, sans-serif" font-weight="bold">0.5</text>
<text x="279.6" y="838.7" font-size="27" text-anchor="middle" fill="#1a1a1a" font-family="Liberation Sans, Arial, Helvetica, sans-serif" font-weight="bold">0.6</text>
<text x="369.3" y="838.7" font-size="27" text-anchor="middle" fill="#1a1a1a" font-family="Liberation Sans, Arial, Helvetica, sans-serif" font-weight="bold">0.7</text>
<text x="459.1" y="838.7" font-size="27" text-anchor="middle" fill="#1a1a1a" font-family="Liberation Sans, Arial, Helvetica, sans-serif" font-weight="bold">0.8</text>
<text x="548.9" y="838.7" font-size="27" text-anchor="middle" fill="#1a1a1a" font-family="Liberation Sans, Arial, Helvetica, sans-serif" font-weight="bold">0.9</text>
<text x="638.6" y="838.7" font-size="27" text-anchor="middle" fill="#1a1a1a" font-family="Liberation Sans, Arial, Helvetica, sans-serif" font-weight="bold">1.0</text>
<text x="93" y="33.4" font-size="27" text-anchor="end" fill="#1a1a1a" font-family="Liberation Sans, Arial, Helvetica, sans-serif" font-weight="bold">10<tspan font-size="17.5" dy="-12.3">−7</tspan></text>
<text x="93" y="237.6" font-size="27" text-anchor="end" fill="#1a1a1a" font-family="Liberation Sans, Arial, Helvetica, sans-serif" font-weight="bold">10<tspan font-size="17.5" dy="-12.3">−8</tspan></text>
<text x="93" y="441.8" font-size="27" text-anchor="end" fill="#1a1a1a" font-family="Liberation Sans, Arial, Helvetica, sans-serif" font-weight="bold">10<tspan font-size="17.5" dy="-12.3">−9</tspan></text>
<text x="93" y="646.0" font-size="27" text-anchor="end" fill="#1a1a1a" font-family="Liberation Sans, Arial, Helvetica, sans-serif" font-weight="bold">10<tspan font-size="17.5" dy="-12.3">−10</tspan></text>
<text x="391.6" y="879.5" font-size="27" text-anchor="middle" fill="#1a1a1a" font-family="Liberation Sans, Arial, Helvetica, sans-serif" font-weight="bold">Wavelength (µm)</text>
<text transform="translate(23 402.4) rotate(-90)" font-size="27" text-anchor="middle" fill="#1a1a1a" font-family="Liberation Sans, Arial, Helvetica, sans-serif" font-weight="bold">Planet Flux / Star Flux</text>
<path d="M208.9 41.6H251.6" stroke="#ffd21f" stroke-width="2.6"/>
<text x="267.3" y="48.5" font-size="22.6" fill="#1a1a1a" font-family="Liberation Sans, Arial, Helvetica, sans-serif" font-weight="bold">0.8 AU Jupiter</text>
<path d="M208.9 66.6H251.6" stroke="#8fe0dc" stroke-width="2.6"/>
<text x="267.3" y="73.5" font-size="22.6" fill="#1a1a1a" font-family="Liberation Sans, Arial, Helvetica, sans-serif" font-weight="bold">2 AU Jupiter</text>
<path d="M447 41.6H489.7" stroke="#2b3c9e" stroke-width="2.6"/>
<text x="505.3" y="48.5" font-size="22.6" fill="#1a1a1a" font-family="Liberation Sans, Arial, Helvetica, sans-serif" font-weight="bold">1 AU Neptune</text>
<path d="M447 66.6H489.7" stroke="#d070c8" stroke-width="2.6"/>
<text x="505.3" y="73.5" font-size="22.6" fill="#1a1a1a" font-family="Liberation Sans, Arial, Helvetica, sans-serif" font-weight="bold">Jupiter</text>
<path d="M447 91.6H489.7" stroke="#404040" stroke-width="2.6"/>
<text x="505.3" y="98.5" font-size="22.6" fill="#1a1a1a" font-family="Liberation Sans, Arial, Helvetica, sans-serif" font-weight="bold">Venus</text>
<path d="M447 116.6H489.7" stroke="#4a86c8" stroke-width="2.6"/>
<text x="505.3" y="123.5" font-size="22.6" fill="#1a1a1a" font-family="Liberation Sans, Arial, Helvetica, sans-serif" font-weight="bold">Saturn</text>
<path d="M447 141.6H489.7" stroke="#60cc40" stroke-width="2.6"/>
<text x="505.3" y="148.5" font-size="22.6" fill="#1a1a1a" font-family="Liberation Sans, Arial, Helvetica, sans-serif" font-weight="bold">Earth</text>
</svg>
</body></html>
